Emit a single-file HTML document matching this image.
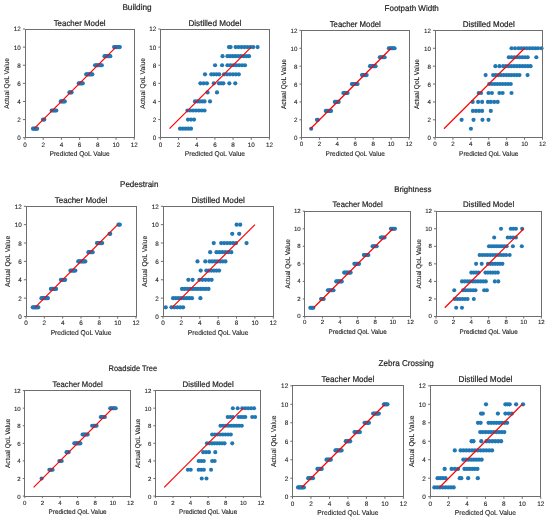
<!DOCTYPE html>
<html><head><meta charset="utf-8"><style>
html,body{margin:0;padding:0;background:#fff;overflow:hidden;}
svg{display:block;will-change:transform;}
text{font-family:"Liberation Sans",sans-serif;text-rendering:geometricPrecision;}
</style></head><body>
<svg width="550" height="520" viewBox="0 0 550 520">
<rect width="550" height="520" fill="#fff"/>
<g fill="#1f77b4"><circle cx="33.01" cy="128.64" r="2.10"/><circle cx="34.03" cy="128.64" r="2.10"/><circle cx="35.06" cy="128.64" r="2.10"/><circle cx="36.08" cy="128.64" r="2.10"/><circle cx="37.10" cy="128.64" r="2.10"/><circle cx="43.02" cy="119.58" r="2.10"/><circle cx="44.29" cy="119.58" r="2.10"/><circle cx="51.66" cy="110.52" r="2.10"/><circle cx="52.82" cy="110.52" r="2.10"/><circle cx="53.98" cy="110.52" r="2.10"/><circle cx="55.14" cy="110.52" r="2.10"/><circle cx="56.30" cy="110.52" r="2.10"/><circle cx="60.76" cy="101.47" r="2.10"/><circle cx="61.76" cy="101.47" r="2.10"/><circle cx="62.77" cy="101.47" r="2.10"/><circle cx="63.77" cy="101.47" r="2.10"/><circle cx="64.77" cy="101.47" r="2.10"/><circle cx="69.41" cy="92.41" r="2.10"/><circle cx="70.50" cy="92.41" r="2.10"/><circle cx="71.59" cy="92.41" r="2.10"/><circle cx="78.78" cy="83.35" r="2.10"/><circle cx="79.78" cy="83.35" r="2.10"/><circle cx="80.78" cy="83.35" r="2.10"/><circle cx="81.78" cy="83.35" r="2.10"/><circle cx="82.78" cy="83.35" r="2.10"/><circle cx="86.15" cy="74.29" r="2.10"/><circle cx="87.18" cy="74.29" r="2.10"/><circle cx="88.21" cy="74.29" r="2.10"/><circle cx="89.25" cy="74.29" r="2.10"/><circle cx="90.28" cy="74.29" r="2.10"/><circle cx="91.31" cy="74.29" r="2.10"/><circle cx="92.34" cy="74.29" r="2.10"/><circle cx="95.07" cy="65.23" r="2.10"/><circle cx="96.19" cy="65.23" r="2.10"/><circle cx="97.31" cy="65.23" r="2.10"/><circle cx="98.44" cy="65.23" r="2.10"/><circle cx="99.56" cy="65.23" r="2.10"/><circle cx="100.68" cy="65.23" r="2.10"/><circle cx="101.80" cy="65.23" r="2.10"/><circle cx="104.53" cy="56.17" r="2.10"/><circle cx="105.68" cy="56.17" r="2.10"/><circle cx="106.83" cy="56.17" r="2.10"/><circle cx="107.97" cy="56.17" r="2.10"/><circle cx="109.12" cy="56.17" r="2.10"/><circle cx="110.27" cy="56.17" r="2.10"/><circle cx="114.09" cy="47.12" r="2.10"/><circle cx="115.24" cy="47.12" r="2.10"/><circle cx="116.38" cy="47.12" r="2.10"/><circle cx="117.53" cy="47.12" r="2.10"/><circle cx="118.68" cy="47.12" r="2.10"/><circle cx="119.82" cy="47.12" r="2.10"/></g>
<line x1="34.10" y1="128.64" x2="116.00" y2="47.12" stroke="#ff0000" stroke-width="1.20"/>
<rect x="25.50" y="29.50" width="109.00" height="108.00" fill="none" stroke="#6e6e6e" stroke-width="1.0"/>
<line x1="25.00" y1="137.70" x2="25.00" y2="139.80" stroke="#6e6e6e" stroke-width="1.0"/>
<line x1="22.90" y1="137.70" x2="25.00" y2="137.70" stroke="#6e6e6e" stroke-width="1.0"/>
<text x="25.00" y="146.92" font-size="6.30" text-anchor="middle" fill="#1f1f1f" stroke="#1f1f1f" stroke-width="0.1">0</text>
<text x="20.80" y="140.19" font-size="6.30" text-anchor="end" fill="#1f1f1f" stroke="#1f1f1f" stroke-width="0.1">0</text>
<line x1="43.20" y1="137.70" x2="43.20" y2="139.80" stroke="#6e6e6e" stroke-width="1.0"/>
<line x1="22.90" y1="119.58" x2="25.00" y2="119.58" stroke="#6e6e6e" stroke-width="1.0"/>
<text x="43.20" y="146.92" font-size="6.30" text-anchor="middle" fill="#1f1f1f" stroke="#1f1f1f" stroke-width="0.1">2</text>
<text x="20.80" y="122.07" font-size="6.30" text-anchor="end" fill="#1f1f1f" stroke="#1f1f1f" stroke-width="0.1">2</text>
<line x1="61.40" y1="137.70" x2="61.40" y2="139.80" stroke="#6e6e6e" stroke-width="1.0"/>
<line x1="22.90" y1="101.47" x2="25.00" y2="101.47" stroke="#6e6e6e" stroke-width="1.0"/>
<text x="61.40" y="146.92" font-size="6.30" text-anchor="middle" fill="#1f1f1f" stroke="#1f1f1f" stroke-width="0.1">4</text>
<text x="20.80" y="103.96" font-size="6.30" text-anchor="end" fill="#1f1f1f" stroke="#1f1f1f" stroke-width="0.1">4</text>
<line x1="79.60" y1="137.70" x2="79.60" y2="139.80" stroke="#6e6e6e" stroke-width="1.0"/>
<line x1="22.90" y1="83.35" x2="25.00" y2="83.35" stroke="#6e6e6e" stroke-width="1.0"/>
<text x="79.60" y="146.92" font-size="6.30" text-anchor="middle" fill="#1f1f1f" stroke="#1f1f1f" stroke-width="0.1">6</text>
<text x="20.80" y="85.84" font-size="6.30" text-anchor="end" fill="#1f1f1f" stroke="#1f1f1f" stroke-width="0.1">6</text>
<line x1="97.80" y1="137.70" x2="97.80" y2="139.80" stroke="#6e6e6e" stroke-width="1.0"/>
<line x1="22.90" y1="65.23" x2="25.00" y2="65.23" stroke="#6e6e6e" stroke-width="1.0"/>
<text x="97.80" y="146.92" font-size="6.30" text-anchor="middle" fill="#1f1f1f" stroke="#1f1f1f" stroke-width="0.1">8</text>
<text x="20.80" y="67.72" font-size="6.30" text-anchor="end" fill="#1f1f1f" stroke="#1f1f1f" stroke-width="0.1">8</text>
<line x1="116.00" y1="137.70" x2="116.00" y2="139.80" stroke="#6e6e6e" stroke-width="1.0"/>
<line x1="22.90" y1="47.12" x2="25.00" y2="47.12" stroke="#6e6e6e" stroke-width="1.0"/>
<text x="116.00" y="146.92" font-size="6.30" text-anchor="middle" fill="#1f1f1f" stroke="#1f1f1f" stroke-width="0.1">10</text>
<text x="20.80" y="49.61" font-size="6.30" text-anchor="end" fill="#1f1f1f" stroke="#1f1f1f" stroke-width="0.1">10</text>
<line x1="134.20" y1="137.70" x2="134.20" y2="139.80" stroke="#6e6e6e" stroke-width="1.0"/>
<line x1="22.90" y1="29.00" x2="25.00" y2="29.00" stroke="#6e6e6e" stroke-width="1.0"/>
<text x="134.20" y="146.92" font-size="6.30" text-anchor="middle" fill="#1f1f1f" stroke="#1f1f1f" stroke-width="0.1">12</text>
<text x="20.80" y="31.49" font-size="6.30" text-anchor="end" fill="#1f1f1f" stroke="#1f1f1f" stroke-width="0.1">12</text>
<text x="79.60" y="26.20" font-size="8.35" text-anchor="middle" textLength="51.91" lengthAdjust="spacingAndGlyphs" fill="#1f1f1f" stroke="#1f1f1f" stroke-width="0.2">Teacher Model</text>
<text x="79.60" y="156.40" font-size="6.96" text-anchor="middle" textLength="60.18" lengthAdjust="spacingAndGlyphs" fill="#1f1f1f" stroke="#1f1f1f" stroke-width="0.12">Predicted QoL Value</text>
<text x="9.22" y="83.35" font-size="6.96" text-anchor="middle" textLength="50.82" lengthAdjust="spacingAndGlyphs" transform="rotate(-90 9.22 83.35)" fill="#1f1f1f" stroke="#1f1f1f" stroke-width="0.12">Actual QoL Value</text>
<g fill="#1f77b4"><circle cx="228.98" cy="47.12" r="2.10"/><circle cx="230.61" cy="47.12" r="2.10"/><circle cx="235.61" cy="47.12" r="2.10"/><circle cx="238.55" cy="47.12" r="2.10"/><circle cx="241.48" cy="47.12" r="2.10"/><circle cx="244.42" cy="47.12" r="2.10"/><circle cx="247.36" cy="47.12" r="2.10"/><circle cx="250.29" cy="47.12" r="2.10"/><circle cx="253.23" cy="47.12" r="2.10"/><circle cx="257.59" cy="47.12" r="2.10"/><circle cx="222.53" cy="56.17" r="2.10"/><circle cx="227.44" cy="56.17" r="2.10"/><circle cx="230.13" cy="56.17" r="2.10"/><circle cx="232.82" cy="56.17" r="2.10"/><circle cx="235.51" cy="56.17" r="2.10"/><circle cx="238.20" cy="56.17" r="2.10"/><circle cx="240.89" cy="56.17" r="2.10"/><circle cx="243.58" cy="56.17" r="2.10"/><circle cx="246.27" cy="56.17" r="2.10"/><circle cx="248.96" cy="56.17" r="2.10"/><circle cx="215.08" cy="65.23" r="2.10"/><circle cx="222.08" cy="65.23" r="2.10"/><circle cx="227.44" cy="65.23" r="2.10"/><circle cx="230.36" cy="65.23" r="2.10"/><circle cx="233.28" cy="65.23" r="2.10"/><circle cx="236.20" cy="65.23" r="2.10"/><circle cx="239.12" cy="65.23" r="2.10"/><circle cx="242.04" cy="65.23" r="2.10"/><circle cx="244.97" cy="65.23" r="2.10"/><circle cx="205.00" cy="74.29" r="2.10"/><circle cx="211.27" cy="74.29" r="2.10"/><circle cx="213.90" cy="74.29" r="2.10"/><circle cx="216.53" cy="74.29" r="2.10"/><circle cx="219.17" cy="74.29" r="2.10"/><circle cx="224.07" cy="74.29" r="2.10"/><circle cx="227.02" cy="74.29" r="2.10"/><circle cx="229.96" cy="74.29" r="2.10"/><circle cx="232.90" cy="74.29" r="2.10"/><circle cx="235.85" cy="74.29" r="2.10"/><circle cx="238.79" cy="74.29" r="2.10"/><circle cx="200.37" cy="83.35" r="2.10"/><circle cx="203.64" cy="83.35" r="2.10"/><circle cx="206.91" cy="83.35" r="2.10"/><circle cx="213.81" cy="83.35" r="2.10"/><circle cx="218.90" cy="83.35" r="2.10"/><circle cx="221.12" cy="83.35" r="2.10"/><circle cx="223.35" cy="83.35" r="2.10"/><circle cx="229.34" cy="83.35" r="2.10"/><circle cx="235.25" cy="83.35" r="2.10"/><circle cx="207.54" cy="92.41" r="2.10"/><circle cx="216.99" cy="92.41" r="2.10"/><circle cx="195.01" cy="101.47" r="2.10"/><circle cx="197.39" cy="101.47" r="2.10"/><circle cx="199.78" cy="101.47" r="2.10"/><circle cx="202.16" cy="101.47" r="2.10"/><circle cx="204.54" cy="101.47" r="2.10"/><circle cx="210.00" cy="101.47" r="2.10"/><circle cx="187.47" cy="110.52" r="2.10"/><circle cx="190.31" cy="110.52" r="2.10"/><circle cx="193.16" cy="110.52" r="2.10"/><circle cx="196.01" cy="110.52" r="2.10"/><circle cx="198.85" cy="110.52" r="2.10"/><circle cx="201.70" cy="110.52" r="2.10"/><circle cx="204.54" cy="110.52" r="2.10"/><circle cx="188.01" cy="119.58" r="2.10"/><circle cx="191.01" cy="119.58" r="2.10"/><circle cx="194.01" cy="119.58" r="2.10"/><circle cx="180.02" cy="128.64" r="2.10"/><circle cx="182.77" cy="128.64" r="2.10"/><circle cx="185.52" cy="128.64" r="2.10"/><circle cx="188.26" cy="128.64" r="2.10"/><circle cx="191.01" cy="128.64" r="2.10"/></g>
<line x1="169.48" y1="128.64" x2="251.23" y2="47.12" stroke="#ff0000" stroke-width="1.20"/>
<rect x="160.50" y="29.50" width="109.00" height="108.00" fill="none" stroke="#6e6e6e" stroke-width="1.0"/>
<line x1="160.40" y1="137.70" x2="160.40" y2="139.80" stroke="#6e6e6e" stroke-width="1.0"/>
<line x1="158.30" y1="137.70" x2="160.40" y2="137.70" stroke="#6e6e6e" stroke-width="1.0"/>
<text x="160.40" y="146.92" font-size="6.30" text-anchor="middle" fill="#1f1f1f" stroke="#1f1f1f" stroke-width="0.1">0</text>
<text x="156.20" y="140.19" font-size="6.30" text-anchor="end" fill="#1f1f1f" stroke="#1f1f1f" stroke-width="0.1">0</text>
<line x1="178.57" y1="137.70" x2="178.57" y2="139.80" stroke="#6e6e6e" stroke-width="1.0"/>
<line x1="158.30" y1="119.58" x2="160.40" y2="119.58" stroke="#6e6e6e" stroke-width="1.0"/>
<text x="178.57" y="146.92" font-size="6.30" text-anchor="middle" fill="#1f1f1f" stroke="#1f1f1f" stroke-width="0.1">2</text>
<text x="156.20" y="122.07" font-size="6.30" text-anchor="end" fill="#1f1f1f" stroke="#1f1f1f" stroke-width="0.1">2</text>
<line x1="196.73" y1="137.70" x2="196.73" y2="139.80" stroke="#6e6e6e" stroke-width="1.0"/>
<line x1="158.30" y1="101.47" x2="160.40" y2="101.47" stroke="#6e6e6e" stroke-width="1.0"/>
<text x="196.73" y="146.92" font-size="6.30" text-anchor="middle" fill="#1f1f1f" stroke="#1f1f1f" stroke-width="0.1">4</text>
<text x="156.20" y="103.96" font-size="6.30" text-anchor="end" fill="#1f1f1f" stroke="#1f1f1f" stroke-width="0.1">4</text>
<line x1="214.90" y1="137.70" x2="214.90" y2="139.80" stroke="#6e6e6e" stroke-width="1.0"/>
<line x1="158.30" y1="83.35" x2="160.40" y2="83.35" stroke="#6e6e6e" stroke-width="1.0"/>
<text x="214.90" y="146.92" font-size="6.30" text-anchor="middle" fill="#1f1f1f" stroke="#1f1f1f" stroke-width="0.1">6</text>
<text x="156.20" y="85.84" font-size="6.30" text-anchor="end" fill="#1f1f1f" stroke="#1f1f1f" stroke-width="0.1">6</text>
<line x1="233.07" y1="137.70" x2="233.07" y2="139.80" stroke="#6e6e6e" stroke-width="1.0"/>
<line x1="158.30" y1="65.23" x2="160.40" y2="65.23" stroke="#6e6e6e" stroke-width="1.0"/>
<text x="233.07" y="146.92" font-size="6.30" text-anchor="middle" fill="#1f1f1f" stroke="#1f1f1f" stroke-width="0.1">8</text>
<text x="156.20" y="67.72" font-size="6.30" text-anchor="end" fill="#1f1f1f" stroke="#1f1f1f" stroke-width="0.1">8</text>
<line x1="251.23" y1="137.70" x2="251.23" y2="139.80" stroke="#6e6e6e" stroke-width="1.0"/>
<line x1="158.30" y1="47.12" x2="160.40" y2="47.12" stroke="#6e6e6e" stroke-width="1.0"/>
<text x="251.23" y="146.92" font-size="6.30" text-anchor="middle" fill="#1f1f1f" stroke="#1f1f1f" stroke-width="0.1">10</text>
<text x="156.20" y="49.61" font-size="6.30" text-anchor="end" fill="#1f1f1f" stroke="#1f1f1f" stroke-width="0.1">10</text>
<line x1="269.40" y1="137.70" x2="269.40" y2="139.80" stroke="#6e6e6e" stroke-width="1.0"/>
<line x1="158.30" y1="29.00" x2="160.40" y2="29.00" stroke="#6e6e6e" stroke-width="1.0"/>
<text x="269.40" y="146.92" font-size="6.30" text-anchor="middle" fill="#1f1f1f" stroke="#1f1f1f" stroke-width="0.1">12</text>
<text x="156.20" y="31.49" font-size="6.30" text-anchor="end" fill="#1f1f1f" stroke="#1f1f1f" stroke-width="0.1">12</text>
<text x="214.90" y="26.20" font-size="8.35" text-anchor="middle" textLength="52.99" lengthAdjust="spacingAndGlyphs" fill="#1f1f1f" stroke="#1f1f1f" stroke-width="0.2">Distilled Model</text>
<text x="214.90" y="156.40" font-size="6.96" text-anchor="middle" textLength="60.18" lengthAdjust="spacingAndGlyphs" fill="#1f1f1f" stroke="#1f1f1f" stroke-width="0.12">Predicted QoL Value</text>
<text x="144.62" y="83.35" font-size="6.96" text-anchor="middle" textLength="50.82" lengthAdjust="spacingAndGlyphs" transform="rotate(-90 144.62 83.35)" fill="#1f1f1f" stroke="#1f1f1f" stroke-width="0.12">Actual QoL Value</text>
<text x="137.00" y="9.90" font-size="8.35" text-anchor="middle" textLength="29.23" lengthAdjust="spacingAndGlyphs" fill="#1f1f1f" stroke="#1f1f1f" stroke-width="0.2">Building</text>
<g fill="#1f77b4"><circle cx="311.18" cy="128.76" r="2.07"/><circle cx="316.91" cy="119.82" r="2.07"/><circle cx="317.89" cy="119.82" r="2.07"/><circle cx="325.78" cy="110.88" r="2.07"/><circle cx="326.83" cy="110.88" r="2.07"/><circle cx="327.89" cy="110.88" r="2.07"/><circle cx="328.95" cy="110.88" r="2.07"/><circle cx="330.01" cy="110.88" r="2.07"/><circle cx="331.06" cy="110.88" r="2.07"/><circle cx="334.82" cy="101.93" r="2.07"/><circle cx="335.79" cy="101.93" r="2.07"/><circle cx="336.75" cy="101.93" r="2.07"/><circle cx="337.71" cy="101.93" r="2.07"/><circle cx="338.68" cy="101.93" r="2.07"/><circle cx="343.34" cy="92.99" r="2.07"/><circle cx="344.39" cy="92.99" r="2.07"/><circle cx="345.44" cy="92.99" r="2.07"/><circle cx="346.49" cy="92.99" r="2.07"/><circle cx="347.55" cy="92.99" r="2.07"/><circle cx="351.85" cy="84.05" r="2.07"/><circle cx="352.99" cy="84.05" r="2.07"/><circle cx="354.14" cy="84.05" r="2.07"/><circle cx="355.29" cy="84.05" r="2.07"/><circle cx="356.43" cy="84.05" r="2.07"/><circle cx="357.58" cy="84.05" r="2.07"/><circle cx="361.97" cy="75.11" r="2.07"/><circle cx="363.13" cy="75.11" r="2.07"/><circle cx="364.30" cy="75.11" r="2.07"/><circle cx="365.46" cy="75.11" r="2.07"/><circle cx="366.63" cy="75.11" r="2.07"/><circle cx="370.03" cy="66.17" r="2.07"/><circle cx="371.14" cy="66.17" r="2.07"/><circle cx="372.25" cy="66.17" r="2.07"/><circle cx="373.36" cy="66.17" r="2.07"/><circle cx="374.47" cy="66.17" r="2.07"/><circle cx="375.59" cy="66.17" r="2.07"/><circle cx="379.80" cy="57.22" r="2.07"/><circle cx="381.01" cy="57.22" r="2.07"/><circle cx="382.21" cy="57.22" r="2.07"/><circle cx="383.42" cy="57.22" r="2.07"/><circle cx="384.63" cy="57.22" r="2.07"/><circle cx="388.84" cy="48.28" r="2.07"/><circle cx="389.99" cy="48.28" r="2.07"/><circle cx="391.14" cy="48.28" r="2.07"/><circle cx="392.28" cy="48.28" r="2.07"/><circle cx="393.43" cy="48.28" r="2.07"/><circle cx="394.58" cy="48.28" r="2.07"/></g>
<line x1="310.46" y1="128.76" x2="391.08" y2="48.28" stroke="#ff0000" stroke-width="1.20"/>
<rect x="301.50" y="30.50" width="108.00" height="107.00" fill="none" stroke="#6e6e6e" stroke-width="1.0"/>
<line x1="301.50" y1="137.70" x2="301.50" y2="139.77" stroke="#6e6e6e" stroke-width="1.0"/>
<line x1="299.43" y1="137.70" x2="301.50" y2="137.70" stroke="#6e6e6e" stroke-width="1.0"/>
<text x="301.50" y="145.99" font-size="6.21" text-anchor="middle" fill="#1f1f1f" stroke="#1f1f1f" stroke-width="0.1">0</text>
<text x="297.36" y="140.16" font-size="6.21" text-anchor="end" fill="#1f1f1f" stroke="#1f1f1f" stroke-width="0.1">0</text>
<line x1="319.42" y1="137.70" x2="319.42" y2="139.77" stroke="#6e6e6e" stroke-width="1.0"/>
<line x1="299.43" y1="119.82" x2="301.50" y2="119.82" stroke="#6e6e6e" stroke-width="1.0"/>
<text x="319.42" y="145.99" font-size="6.21" text-anchor="middle" fill="#1f1f1f" stroke="#1f1f1f" stroke-width="0.1">2</text>
<text x="297.36" y="122.27" font-size="6.21" text-anchor="end" fill="#1f1f1f" stroke="#1f1f1f" stroke-width="0.1">2</text>
<line x1="337.33" y1="137.70" x2="337.33" y2="139.77" stroke="#6e6e6e" stroke-width="1.0"/>
<line x1="299.43" y1="101.93" x2="301.50" y2="101.93" stroke="#6e6e6e" stroke-width="1.0"/>
<text x="337.33" y="145.99" font-size="6.21" text-anchor="middle" fill="#1f1f1f" stroke="#1f1f1f" stroke-width="0.1">4</text>
<text x="297.36" y="104.39" font-size="6.21" text-anchor="end" fill="#1f1f1f" stroke="#1f1f1f" stroke-width="0.1">4</text>
<line x1="355.25" y1="137.70" x2="355.25" y2="139.77" stroke="#6e6e6e" stroke-width="1.0"/>
<line x1="299.43" y1="84.05" x2="301.50" y2="84.05" stroke="#6e6e6e" stroke-width="1.0"/>
<text x="355.25" y="145.99" font-size="6.21" text-anchor="middle" fill="#1f1f1f" stroke="#1f1f1f" stroke-width="0.1">6</text>
<text x="297.36" y="86.51" font-size="6.21" text-anchor="end" fill="#1f1f1f" stroke="#1f1f1f" stroke-width="0.1">6</text>
<line x1="373.17" y1="137.70" x2="373.17" y2="139.77" stroke="#6e6e6e" stroke-width="1.0"/>
<line x1="299.43" y1="66.17" x2="301.50" y2="66.17" stroke="#6e6e6e" stroke-width="1.0"/>
<text x="373.17" y="145.99" font-size="6.21" text-anchor="middle" fill="#1f1f1f" stroke="#1f1f1f" stroke-width="0.1">8</text>
<text x="297.36" y="68.62" font-size="6.21" text-anchor="end" fill="#1f1f1f" stroke="#1f1f1f" stroke-width="0.1">8</text>
<line x1="391.08" y1="137.70" x2="391.08" y2="139.77" stroke="#6e6e6e" stroke-width="1.0"/>
<line x1="299.43" y1="48.28" x2="301.50" y2="48.28" stroke="#6e6e6e" stroke-width="1.0"/>
<text x="391.08" y="145.99" font-size="6.21" text-anchor="middle" fill="#1f1f1f" stroke="#1f1f1f" stroke-width="0.1">10</text>
<text x="297.36" y="50.74" font-size="6.21" text-anchor="end" fill="#1f1f1f" stroke="#1f1f1f" stroke-width="0.1">10</text>
<line x1="409.00" y1="137.70" x2="409.00" y2="139.77" stroke="#6e6e6e" stroke-width="1.0"/>
<line x1="299.43" y1="30.40" x2="301.50" y2="30.40" stroke="#6e6e6e" stroke-width="1.0"/>
<text x="409.00" y="145.99" font-size="6.21" text-anchor="middle" fill="#1f1f1f" stroke="#1f1f1f" stroke-width="0.1">12</text>
<text x="297.36" y="32.86" font-size="6.21" text-anchor="end" fill="#1f1f1f" stroke="#1f1f1f" stroke-width="0.1">12</text>
<text x="355.25" y="26.65" font-size="8.23" text-anchor="middle" textLength="51.13" lengthAdjust="spacingAndGlyphs" fill="#1f1f1f" stroke="#1f1f1f" stroke-width="0.2">Teacher Model</text>
<text x="355.25" y="155.63" font-size="6.86" text-anchor="middle" textLength="59.28" lengthAdjust="spacingAndGlyphs" fill="#1f1f1f" stroke="#1f1f1f" stroke-width="0.12">Predicted QoL Value</text>
<text x="285.96" y="84.05" font-size="6.86" text-anchor="middle" textLength="50.06" lengthAdjust="spacingAndGlyphs" transform="rotate(-90 285.96 84.05)" fill="#1f1f1f" stroke="#1f1f1f" stroke-width="0.12">Actual QoL Value</text>
<g fill="#1f77b4"><circle cx="511.50" cy="48.28" r="2.07"/><circle cx="515.00" cy="48.28" r="2.07"/><circle cx="518.49" cy="48.28" r="2.07"/><circle cx="521.29" cy="48.28" r="2.07"/><circle cx="524.10" cy="48.28" r="2.07"/><circle cx="526.90" cy="48.28" r="2.07"/><circle cx="529.70" cy="48.28" r="2.07"/><circle cx="532.51" cy="48.28" r="2.07"/><circle cx="535.31" cy="48.28" r="2.07"/><circle cx="538.11" cy="48.28" r="2.07"/><circle cx="541.51" cy="48.28" r="2.07"/><circle cx="508.82" cy="57.22" r="2.07"/><circle cx="511.52" cy="57.22" r="2.07"/><circle cx="514.22" cy="57.22" r="2.07"/><circle cx="516.92" cy="57.22" r="2.07"/><circle cx="519.62" cy="57.22" r="2.07"/><circle cx="522.32" cy="57.22" r="2.07"/><circle cx="525.02" cy="57.22" r="2.07"/><circle cx="527.72" cy="57.22" r="2.07"/><circle cx="536.32" cy="57.22" r="2.07"/><circle cx="495.38" cy="66.17" r="2.07"/><circle cx="499.41" cy="66.17" r="2.07"/><circle cx="503.08" cy="66.17" r="2.07"/><circle cx="505.83" cy="66.17" r="2.07"/><circle cx="508.58" cy="66.17" r="2.07"/><circle cx="511.33" cy="66.17" r="2.07"/><circle cx="514.08" cy="66.17" r="2.07"/><circle cx="516.83" cy="66.17" r="2.07"/><circle cx="519.58" cy="66.17" r="2.07"/><circle cx="522.33" cy="66.17" r="2.07"/><circle cx="525.09" cy="66.17" r="2.07"/><circle cx="527.84" cy="66.17" r="2.07"/><circle cx="530.59" cy="66.17" r="2.07"/><circle cx="485.61" cy="75.11" r="2.07"/><circle cx="493.14" cy="75.11" r="2.07"/><circle cx="495.77" cy="75.11" r="2.07"/><circle cx="498.41" cy="75.11" r="2.07"/><circle cx="501.04" cy="75.11" r="2.07"/><circle cx="503.67" cy="75.11" r="2.07"/><circle cx="506.31" cy="75.11" r="2.07"/><circle cx="508.94" cy="75.11" r="2.07"/><circle cx="511.58" cy="75.11" r="2.07"/><circle cx="514.21" cy="75.11" r="2.07"/><circle cx="516.84" cy="75.11" r="2.07"/><circle cx="519.48" cy="75.11" r="2.07"/><circle cx="527.54" cy="75.11" r="2.07"/><circle cx="489.20" cy="84.05" r="2.07"/><circle cx="491.90" cy="84.05" r="2.07"/><circle cx="494.60" cy="84.05" r="2.07"/><circle cx="497.29" cy="84.05" r="2.07"/><circle cx="499.99" cy="84.05" r="2.07"/><circle cx="502.69" cy="84.05" r="2.07"/><circle cx="505.39" cy="84.05" r="2.07"/><circle cx="508.09" cy="84.05" r="2.07"/><circle cx="510.79" cy="84.05" r="2.07"/><circle cx="478.72" cy="92.99" r="2.07"/><circle cx="481.05" cy="92.99" r="2.07"/><circle cx="488.48" cy="92.99" r="2.07"/><circle cx="491.89" cy="92.99" r="2.07"/><circle cx="499.41" cy="92.99" r="2.07"/><circle cx="502.64" cy="92.99" r="2.07"/><circle cx="511.50" cy="92.99" r="2.07"/><circle cx="472.71" cy="101.93" r="2.07"/><circle cx="478.09" cy="101.93" r="2.07"/><circle cx="482.12" cy="101.93" r="2.07"/><circle cx="487.94" cy="101.93" r="2.07"/><circle cx="490.81" cy="101.93" r="2.07"/><circle cx="494.21" cy="101.93" r="2.07"/><circle cx="497.71" cy="101.93" r="2.07"/><circle cx="472.89" cy="110.88" r="2.07"/><circle cx="475.97" cy="110.88" r="2.07"/><circle cx="479.05" cy="110.88" r="2.07"/><circle cx="482.12" cy="110.88" r="2.07"/><circle cx="490.81" cy="110.88" r="2.07"/><circle cx="461.61" cy="119.82" r="2.07"/><circle cx="473.52" cy="119.82" r="2.07"/><circle cx="482.48" cy="119.82" r="2.07"/><circle cx="488.48" cy="119.82" r="2.07"/><circle cx="470.92" cy="128.76" r="2.07"/></g>
<line x1="443.96" y1="128.76" x2="524.58" y2="48.28" stroke="#ff0000" stroke-width="1.20"/>
<rect x="435.50" y="30.50" width="107.00" height="107.00" fill="none" stroke="#6e6e6e" stroke-width="1.0"/>
<line x1="435.00" y1="137.70" x2="435.00" y2="139.77" stroke="#6e6e6e" stroke-width="1.0"/>
<line x1="432.93" y1="137.70" x2="435.00" y2="137.70" stroke="#6e6e6e" stroke-width="1.0"/>
<text x="435.00" y="145.99" font-size="6.21" text-anchor="middle" fill="#1f1f1f" stroke="#1f1f1f" stroke-width="0.1">0</text>
<text x="430.86" y="140.16" font-size="6.21" text-anchor="end" fill="#1f1f1f" stroke="#1f1f1f" stroke-width="0.1">0</text>
<line x1="452.92" y1="137.70" x2="452.92" y2="139.77" stroke="#6e6e6e" stroke-width="1.0"/>
<line x1="432.93" y1="119.82" x2="435.00" y2="119.82" stroke="#6e6e6e" stroke-width="1.0"/>
<text x="452.92" y="145.99" font-size="6.21" text-anchor="middle" fill="#1f1f1f" stroke="#1f1f1f" stroke-width="0.1">2</text>
<text x="430.86" y="122.27" font-size="6.21" text-anchor="end" fill="#1f1f1f" stroke="#1f1f1f" stroke-width="0.1">2</text>
<line x1="470.83" y1="137.70" x2="470.83" y2="139.77" stroke="#6e6e6e" stroke-width="1.0"/>
<line x1="432.93" y1="101.93" x2="435.00" y2="101.93" stroke="#6e6e6e" stroke-width="1.0"/>
<text x="470.83" y="145.99" font-size="6.21" text-anchor="middle" fill="#1f1f1f" stroke="#1f1f1f" stroke-width="0.1">4</text>
<text x="430.86" y="104.39" font-size="6.21" text-anchor="end" fill="#1f1f1f" stroke="#1f1f1f" stroke-width="0.1">4</text>
<line x1="488.75" y1="137.70" x2="488.75" y2="139.77" stroke="#6e6e6e" stroke-width="1.0"/>
<line x1="432.93" y1="84.05" x2="435.00" y2="84.05" stroke="#6e6e6e" stroke-width="1.0"/>
<text x="488.75" y="145.99" font-size="6.21" text-anchor="middle" fill="#1f1f1f" stroke="#1f1f1f" stroke-width="0.1">6</text>
<text x="430.86" y="86.51" font-size="6.21" text-anchor="end" fill="#1f1f1f" stroke="#1f1f1f" stroke-width="0.1">6</text>
<line x1="506.67" y1="137.70" x2="506.67" y2="139.77" stroke="#6e6e6e" stroke-width="1.0"/>
<line x1="432.93" y1="66.17" x2="435.00" y2="66.17" stroke="#6e6e6e" stroke-width="1.0"/>
<text x="506.67" y="145.99" font-size="6.21" text-anchor="middle" fill="#1f1f1f" stroke="#1f1f1f" stroke-width="0.1">8</text>
<text x="430.86" y="68.62" font-size="6.21" text-anchor="end" fill="#1f1f1f" stroke="#1f1f1f" stroke-width="0.1">8</text>
<line x1="524.58" y1="137.70" x2="524.58" y2="139.77" stroke="#6e6e6e" stroke-width="1.0"/>
<line x1="432.93" y1="48.28" x2="435.00" y2="48.28" stroke="#6e6e6e" stroke-width="1.0"/>
<text x="524.58" y="145.99" font-size="6.21" text-anchor="middle" fill="#1f1f1f" stroke="#1f1f1f" stroke-width="0.1">10</text>
<text x="430.86" y="50.74" font-size="6.21" text-anchor="end" fill="#1f1f1f" stroke="#1f1f1f" stroke-width="0.1">10</text>
<line x1="542.50" y1="137.70" x2="542.50" y2="139.77" stroke="#6e6e6e" stroke-width="1.0"/>
<line x1="432.93" y1="30.40" x2="435.00" y2="30.40" stroke="#6e6e6e" stroke-width="1.0"/>
<text x="542.50" y="145.99" font-size="6.21" text-anchor="middle" fill="#1f1f1f" stroke="#1f1f1f" stroke-width="0.1">12</text>
<text x="430.86" y="32.86" font-size="6.21" text-anchor="end" fill="#1f1f1f" stroke="#1f1f1f" stroke-width="0.1">12</text>
<text x="488.75" y="26.65" font-size="8.23" text-anchor="middle" textLength="52.20" lengthAdjust="spacingAndGlyphs" fill="#1f1f1f" stroke="#1f1f1f" stroke-width="0.2">Distilled Model</text>
<text x="488.75" y="155.63" font-size="6.86" text-anchor="middle" textLength="59.28" lengthAdjust="spacingAndGlyphs" fill="#1f1f1f" stroke="#1f1f1f" stroke-width="0.12">Predicted QoL Value</text>
<text x="419.46" y="84.05" font-size="6.86" text-anchor="middle" textLength="50.06" lengthAdjust="spacingAndGlyphs" transform="rotate(-90 419.46 84.05)" fill="#1f1f1f" stroke="#1f1f1f" stroke-width="0.12">Actual QoL Value</text>
<text x="411.70" y="10.80" font-size="8.23" text-anchor="middle" textLength="54.25" lengthAdjust="spacingAndGlyphs" fill="#1f1f1f" stroke="#1f1f1f" stroke-width="0.2">Footpath Width</text>
<g fill="#1f77b4"><circle cx="32.78" cy="307.32" r="2.12"/><circle cx="33.88" cy="307.32" r="2.12"/><circle cx="34.98" cy="307.32" r="2.12"/><circle cx="36.08" cy="307.32" r="2.12"/><circle cx="37.18" cy="307.32" r="2.12"/><circle cx="38.28" cy="307.32" r="2.12"/><circle cx="41.49" cy="298.13" r="2.12"/><circle cx="42.55" cy="298.13" r="2.12"/><circle cx="43.60" cy="298.13" r="2.12"/><circle cx="44.65" cy="298.13" r="2.12"/><circle cx="45.71" cy="298.13" r="2.12"/><circle cx="46.76" cy="298.13" r="2.12"/><circle cx="47.82" cy="298.13" r="2.12"/><circle cx="50.93" cy="288.95" r="2.12"/><circle cx="51.96" cy="288.95" r="2.12"/><circle cx="52.99" cy="288.95" r="2.12"/><circle cx="54.01" cy="288.95" r="2.12"/><circle cx="55.04" cy="288.95" r="2.12"/><circle cx="56.07" cy="288.95" r="2.12"/><circle cx="60.92" cy="279.77" r="2.12"/><circle cx="61.98" cy="279.77" r="2.12"/><circle cx="63.03" cy="279.77" r="2.12"/><circle cx="64.09" cy="279.77" r="2.12"/><circle cx="65.14" cy="279.77" r="2.12"/><circle cx="70.46" cy="270.58" r="2.12"/><circle cx="71.67" cy="270.58" r="2.12"/><circle cx="72.89" cy="270.58" r="2.12"/><circle cx="74.10" cy="270.58" r="2.12"/><circle cx="75.32" cy="270.58" r="2.12"/><circle cx="78.25" cy="261.40" r="2.12"/><circle cx="79.43" cy="261.40" r="2.12"/><circle cx="80.60" cy="261.40" r="2.12"/><circle cx="81.78" cy="261.40" r="2.12"/><circle cx="82.96" cy="261.40" r="2.12"/><circle cx="84.13" cy="261.40" r="2.12"/><circle cx="85.31" cy="261.40" r="2.12"/><circle cx="88.42" cy="252.22" r="2.12"/><circle cx="89.48" cy="252.22" r="2.12"/><circle cx="90.53" cy="252.22" r="2.12"/><circle cx="91.59" cy="252.22" r="2.12"/><circle cx="92.64" cy="252.22" r="2.12"/><circle cx="96.95" cy="243.03" r="2.12"/><circle cx="97.99" cy="243.03" r="2.12"/><circle cx="99.04" cy="243.03" r="2.12"/><circle cx="100.09" cy="243.03" r="2.12"/><circle cx="101.13" cy="243.03" r="2.12"/><circle cx="102.17" cy="243.03" r="2.12"/><circle cx="109.60" cy="233.85" r="2.12"/><circle cx="110.24" cy="233.85" r="2.12"/><circle cx="118.49" cy="224.67" r="2.12"/><circle cx="119.78" cy="224.67" r="2.12"/></g>
<line x1="35.17" y1="307.32" x2="117.67" y2="224.67" stroke="#ff0000" stroke-width="1.20"/>
<rect x="26.50" y="206.50" width="110.00" height="110.00" fill="none" stroke="#6e6e6e" stroke-width="1.0"/>
<line x1="26.00" y1="316.50" x2="26.00" y2="318.62" stroke="#6e6e6e" stroke-width="1.0"/>
<line x1="23.88" y1="316.50" x2="26.00" y2="316.50" stroke="#6e6e6e" stroke-width="1.0"/>
<text x="26.00" y="325.49" font-size="6.35" text-anchor="middle" fill="#1f1f1f" stroke="#1f1f1f" stroke-width="0.1">0</text>
<text x="21.77" y="319.01" font-size="6.35" text-anchor="end" fill="#1f1f1f" stroke="#1f1f1f" stroke-width="0.1">0</text>
<line x1="44.33" y1="316.50" x2="44.33" y2="318.62" stroke="#6e6e6e" stroke-width="1.0"/>
<line x1="23.88" y1="298.13" x2="26.00" y2="298.13" stroke="#6e6e6e" stroke-width="1.0"/>
<text x="44.33" y="325.49" font-size="6.35" text-anchor="middle" fill="#1f1f1f" stroke="#1f1f1f" stroke-width="0.1">2</text>
<text x="21.77" y="300.64" font-size="6.35" text-anchor="end" fill="#1f1f1f" stroke="#1f1f1f" stroke-width="0.1">2</text>
<line x1="62.67" y1="316.50" x2="62.67" y2="318.62" stroke="#6e6e6e" stroke-width="1.0"/>
<line x1="23.88" y1="279.77" x2="26.00" y2="279.77" stroke="#6e6e6e" stroke-width="1.0"/>
<text x="62.67" y="325.49" font-size="6.35" text-anchor="middle" fill="#1f1f1f" stroke="#1f1f1f" stroke-width="0.1">4</text>
<text x="21.77" y="282.27" font-size="6.35" text-anchor="end" fill="#1f1f1f" stroke="#1f1f1f" stroke-width="0.1">4</text>
<line x1="81.00" y1="316.50" x2="81.00" y2="318.62" stroke="#6e6e6e" stroke-width="1.0"/>
<line x1="23.88" y1="261.40" x2="26.00" y2="261.40" stroke="#6e6e6e" stroke-width="1.0"/>
<text x="81.00" y="325.49" font-size="6.35" text-anchor="middle" fill="#1f1f1f" stroke="#1f1f1f" stroke-width="0.1">6</text>
<text x="21.77" y="263.91" font-size="6.35" text-anchor="end" fill="#1f1f1f" stroke="#1f1f1f" stroke-width="0.1">6</text>
<line x1="99.33" y1="316.50" x2="99.33" y2="318.62" stroke="#6e6e6e" stroke-width="1.0"/>
<line x1="23.88" y1="243.03" x2="26.00" y2="243.03" stroke="#6e6e6e" stroke-width="1.0"/>
<text x="99.33" y="325.49" font-size="6.35" text-anchor="middle" fill="#1f1f1f" stroke="#1f1f1f" stroke-width="0.1">8</text>
<text x="21.77" y="245.54" font-size="6.35" text-anchor="end" fill="#1f1f1f" stroke="#1f1f1f" stroke-width="0.1">8</text>
<line x1="117.67" y1="316.50" x2="117.67" y2="318.62" stroke="#6e6e6e" stroke-width="1.0"/>
<line x1="23.88" y1="224.67" x2="26.00" y2="224.67" stroke="#6e6e6e" stroke-width="1.0"/>
<text x="117.67" y="325.49" font-size="6.35" text-anchor="middle" fill="#1f1f1f" stroke="#1f1f1f" stroke-width="0.1">10</text>
<text x="21.77" y="227.17" font-size="6.35" text-anchor="end" fill="#1f1f1f" stroke="#1f1f1f" stroke-width="0.1">10</text>
<line x1="136.00" y1="316.50" x2="136.00" y2="318.62" stroke="#6e6e6e" stroke-width="1.0"/>
<line x1="23.88" y1="206.30" x2="26.00" y2="206.30" stroke="#6e6e6e" stroke-width="1.0"/>
<text x="136.00" y="325.49" font-size="6.35" text-anchor="middle" fill="#1f1f1f" stroke="#1f1f1f" stroke-width="0.1">12</text>
<text x="21.77" y="208.81" font-size="6.35" text-anchor="end" fill="#1f1f1f" stroke="#1f1f1f" stroke-width="0.1">12</text>
<text x="81.00" y="203.47" font-size="8.42" text-anchor="middle" textLength="52.34" lengthAdjust="spacingAndGlyphs" fill="#1f1f1f" stroke="#1f1f1f" stroke-width="0.2">Teacher Model</text>
<text x="81.00" y="334.85" font-size="7.02" text-anchor="middle" textLength="60.68" lengthAdjust="spacingAndGlyphs" fill="#1f1f1f" stroke="#1f1f1f" stroke-width="0.12">Predicted QoL Value</text>
<text x="10.09" y="261.40" font-size="7.02" text-anchor="middle" textLength="51.24" lengthAdjust="spacingAndGlyphs" transform="rotate(-90 10.09 261.40)" fill="#1f1f1f" stroke="#1f1f1f" stroke-width="0.12">Actual QoL Value</text>
<g fill="#1f77b4"><circle cx="236.63" cy="224.67" r="2.12"/><circle cx="240.21" cy="224.67" r="2.12"/><circle cx="232.21" cy="233.85" r="2.12"/><circle cx="239.20" cy="233.85" r="2.12"/><circle cx="213.74" cy="243.03" r="2.12"/><circle cx="221.18" cy="243.03" r="2.12"/><circle cx="224.14" cy="243.03" r="2.12"/><circle cx="227.10" cy="243.03" r="2.12"/><circle cx="230.06" cy="243.03" r="2.12"/><circle cx="233.02" cy="243.03" r="2.12"/><circle cx="235.98" cy="243.03" r="2.12"/><circle cx="246.55" cy="243.03" r="2.12"/><circle cx="210.15" cy="252.22" r="2.12"/><circle cx="216.50" cy="252.22" r="2.12"/><circle cx="219.46" cy="252.22" r="2.12"/><circle cx="222.41" cy="252.22" r="2.12"/><circle cx="225.37" cy="252.22" r="2.12"/><circle cx="228.33" cy="252.22" r="2.12"/><circle cx="231.29" cy="252.22" r="2.12"/><circle cx="197.47" cy="261.40" r="2.12"/><circle cx="205.28" cy="261.40" r="2.12"/><circle cx="209.51" cy="261.40" r="2.12"/><circle cx="212.16" cy="261.40" r="2.12"/><circle cx="214.81" cy="261.40" r="2.12"/><circle cx="217.46" cy="261.40" r="2.12"/><circle cx="220.11" cy="261.40" r="2.12"/><circle cx="222.76" cy="261.40" r="2.12"/><circle cx="225.41" cy="261.40" r="2.12"/><circle cx="200.69" cy="270.58" r="2.12"/><circle cx="206.38" cy="270.58" r="2.12"/><circle cx="208.92" cy="270.58" r="2.12"/><circle cx="211.46" cy="270.58" r="2.12"/><circle cx="214.00" cy="270.58" r="2.12"/><circle cx="216.53" cy="270.58" r="2.12"/><circle cx="219.07" cy="270.58" r="2.12"/><circle cx="188.37" cy="279.77" r="2.12"/><circle cx="192.60" cy="279.77" r="2.12"/><circle cx="199.40" cy="279.77" r="2.12"/><circle cx="202.46" cy="279.77" r="2.12"/><circle cx="205.51" cy="279.77" r="2.12"/><circle cx="208.57" cy="279.77" r="2.12"/><circle cx="211.62" cy="279.77" r="2.12"/><circle cx="182.03" cy="288.95" r="2.12"/><circle cx="184.67" cy="288.95" r="2.12"/><circle cx="187.32" cy="288.95" r="2.12"/><circle cx="189.97" cy="288.95" r="2.12"/><circle cx="192.62" cy="288.95" r="2.12"/><circle cx="195.26" cy="288.95" r="2.12"/><circle cx="197.91" cy="288.95" r="2.12"/><circle cx="200.56" cy="288.95" r="2.12"/><circle cx="203.20" cy="288.95" r="2.12"/><circle cx="205.85" cy="288.95" r="2.12"/><circle cx="208.50" cy="288.95" r="2.12"/><circle cx="173.11" cy="298.13" r="2.12"/><circle cx="175.80" cy="298.13" r="2.12"/><circle cx="178.49" cy="298.13" r="2.12"/><circle cx="181.19" cy="298.13" r="2.12"/><circle cx="183.88" cy="298.13" r="2.12"/><circle cx="186.57" cy="298.13" r="2.12"/><circle cx="189.26" cy="298.13" r="2.12"/><circle cx="191.95" cy="298.13" r="2.12"/><circle cx="200.41" cy="298.13" r="2.12"/><circle cx="165.76" cy="307.32" r="2.12"/><circle cx="171.46" cy="307.32" r="2.12"/><circle cx="174.37" cy="307.32" r="2.12"/><circle cx="177.29" cy="307.32" r="2.12"/><circle cx="180.21" cy="307.32" r="2.12"/><circle cx="183.13" cy="307.32" r="2.12"/></g>
<line x1="172.19" y1="307.32" x2="254.92" y2="224.67" stroke="#ff0000" stroke-width="1.20"/>
<rect x="163.50" y="206.50" width="110.00" height="110.00" fill="none" stroke="#6e6e6e" stroke-width="1.0"/>
<line x1="163.00" y1="316.50" x2="163.00" y2="318.62" stroke="#6e6e6e" stroke-width="1.0"/>
<line x1="160.88" y1="316.50" x2="163.00" y2="316.50" stroke="#6e6e6e" stroke-width="1.0"/>
<text x="163.00" y="325.49" font-size="6.35" text-anchor="middle" fill="#1f1f1f" stroke="#1f1f1f" stroke-width="0.1">0</text>
<text x="158.76" y="319.01" font-size="6.35" text-anchor="end" fill="#1f1f1f" stroke="#1f1f1f" stroke-width="0.1">0</text>
<line x1="181.38" y1="316.50" x2="181.38" y2="318.62" stroke="#6e6e6e" stroke-width="1.0"/>
<line x1="160.88" y1="298.13" x2="163.00" y2="298.13" stroke="#6e6e6e" stroke-width="1.0"/>
<text x="181.38" y="325.49" font-size="6.35" text-anchor="middle" fill="#1f1f1f" stroke="#1f1f1f" stroke-width="0.1">2</text>
<text x="158.76" y="300.64" font-size="6.35" text-anchor="end" fill="#1f1f1f" stroke="#1f1f1f" stroke-width="0.1">2</text>
<line x1="199.77" y1="316.50" x2="199.77" y2="318.62" stroke="#6e6e6e" stroke-width="1.0"/>
<line x1="160.88" y1="279.77" x2="163.00" y2="279.77" stroke="#6e6e6e" stroke-width="1.0"/>
<text x="199.77" y="325.49" font-size="6.35" text-anchor="middle" fill="#1f1f1f" stroke="#1f1f1f" stroke-width="0.1">4</text>
<text x="158.76" y="282.27" font-size="6.35" text-anchor="end" fill="#1f1f1f" stroke="#1f1f1f" stroke-width="0.1">4</text>
<line x1="218.15" y1="316.50" x2="218.15" y2="318.62" stroke="#6e6e6e" stroke-width="1.0"/>
<line x1="160.88" y1="261.40" x2="163.00" y2="261.40" stroke="#6e6e6e" stroke-width="1.0"/>
<text x="218.15" y="325.49" font-size="6.35" text-anchor="middle" fill="#1f1f1f" stroke="#1f1f1f" stroke-width="0.1">6</text>
<text x="158.76" y="263.91" font-size="6.35" text-anchor="end" fill="#1f1f1f" stroke="#1f1f1f" stroke-width="0.1">6</text>
<line x1="236.53" y1="316.50" x2="236.53" y2="318.62" stroke="#6e6e6e" stroke-width="1.0"/>
<line x1="160.88" y1="243.03" x2="163.00" y2="243.03" stroke="#6e6e6e" stroke-width="1.0"/>
<text x="236.53" y="325.49" font-size="6.35" text-anchor="middle" fill="#1f1f1f" stroke="#1f1f1f" stroke-width="0.1">8</text>
<text x="158.76" y="245.54" font-size="6.35" text-anchor="end" fill="#1f1f1f" stroke="#1f1f1f" stroke-width="0.1">8</text>
<line x1="254.92" y1="316.50" x2="254.92" y2="318.62" stroke="#6e6e6e" stroke-width="1.0"/>
<line x1="160.88" y1="224.67" x2="163.00" y2="224.67" stroke="#6e6e6e" stroke-width="1.0"/>
<text x="254.92" y="325.49" font-size="6.35" text-anchor="middle" fill="#1f1f1f" stroke="#1f1f1f" stroke-width="0.1">10</text>
<text x="158.76" y="227.17" font-size="6.35" text-anchor="end" fill="#1f1f1f" stroke="#1f1f1f" stroke-width="0.1">10</text>
<line x1="273.30" y1="316.50" x2="273.30" y2="318.62" stroke="#6e6e6e" stroke-width="1.0"/>
<line x1="160.88" y1="206.30" x2="163.00" y2="206.30" stroke="#6e6e6e" stroke-width="1.0"/>
<text x="273.30" y="325.49" font-size="6.35" text-anchor="middle" fill="#1f1f1f" stroke="#1f1f1f" stroke-width="0.1">12</text>
<text x="158.76" y="208.81" font-size="6.35" text-anchor="end" fill="#1f1f1f" stroke="#1f1f1f" stroke-width="0.1">12</text>
<text x="218.15" y="203.47" font-size="8.42" text-anchor="middle" textLength="53.43" lengthAdjust="spacingAndGlyphs" fill="#1f1f1f" stroke="#1f1f1f" stroke-width="0.2">Distilled Model</text>
<text x="218.15" y="334.85" font-size="7.02" text-anchor="middle" textLength="60.68" lengthAdjust="spacingAndGlyphs" fill="#1f1f1f" stroke="#1f1f1f" stroke-width="0.12">Predicted QoL Value</text>
<text x="147.09" y="261.40" font-size="7.02" text-anchor="middle" textLength="51.24" lengthAdjust="spacingAndGlyphs" transform="rotate(-90 147.09 261.40)" fill="#1f1f1f" stroke="#1f1f1f" stroke-width="0.12">Actual QoL Value</text>
<text x="139.20" y="187.00" font-size="8.42" text-anchor="middle" textLength="38.33" lengthAdjust="spacingAndGlyphs" fill="#1f1f1f" stroke="#1f1f1f" stroke-width="0.2">Pedestrain</text>
<g fill="#1f77b4"><circle cx="310.26" cy="307.73" r="2.03"/><circle cx="311.29" cy="307.73" r="2.03"/><circle cx="312.32" cy="307.73" r="2.03"/><circle cx="313.34" cy="307.73" r="2.03"/><circle cx="321.01" cy="298.95" r="2.03"/><circle cx="321.92" cy="298.95" r="2.03"/><circle cx="322.83" cy="298.95" r="2.03"/><circle cx="323.74" cy="298.95" r="2.03"/><circle cx="327.88" cy="290.18" r="2.03"/><circle cx="329.01" cy="290.18" r="2.03"/><circle cx="330.13" cy="290.18" r="2.03"/><circle cx="331.26" cy="290.18" r="2.03"/><circle cx="332.39" cy="290.18" r="2.03"/><circle cx="333.52" cy="290.18" r="2.03"/><circle cx="336.16" cy="281.40" r="2.03"/><circle cx="337.29" cy="281.40" r="2.03"/><circle cx="338.41" cy="281.40" r="2.03"/><circle cx="339.54" cy="281.40" r="2.03"/><circle cx="340.67" cy="281.40" r="2.03"/><circle cx="341.80" cy="281.40" r="2.03"/><circle cx="344.09" cy="272.62" r="2.03"/><circle cx="345.19" cy="272.62" r="2.03"/><circle cx="346.29" cy="272.62" r="2.03"/><circle cx="347.39" cy="272.62" r="2.03"/><circle cx="348.49" cy="272.62" r="2.03"/><circle cx="349.59" cy="272.62" r="2.03"/><circle cx="350.69" cy="272.62" r="2.03"/><circle cx="354.30" cy="263.85" r="2.03"/><circle cx="355.25" cy="263.85" r="2.03"/><circle cx="356.21" cy="263.85" r="2.03"/><circle cx="357.16" cy="263.85" r="2.03"/><circle cx="358.11" cy="263.85" r="2.03"/><circle cx="359.06" cy="263.85" r="2.03"/><circle cx="363.82" cy="255.07" r="2.03"/><circle cx="364.96" cy="255.07" r="2.03"/><circle cx="366.11" cy="255.07" r="2.03"/><circle cx="367.25" cy="255.07" r="2.03"/><circle cx="368.40" cy="255.07" r="2.03"/><circle cx="372.54" cy="246.30" r="2.03"/><circle cx="373.57" cy="246.30" r="2.03"/><circle cx="374.61" cy="246.30" r="2.03"/><circle cx="375.64" cy="246.30" r="2.03"/><circle cx="376.68" cy="246.30" r="2.03"/><circle cx="380.82" cy="237.52" r="2.03"/><circle cx="381.76" cy="237.52" r="2.03"/><circle cx="382.71" cy="237.52" r="2.03"/><circle cx="383.66" cy="237.52" r="2.03"/><circle cx="384.60" cy="237.52" r="2.03"/><circle cx="390.86" cy="228.75" r="2.03"/><circle cx="391.89" cy="228.75" r="2.03"/><circle cx="392.93" cy="228.75" r="2.03"/><circle cx="393.96" cy="228.75" r="2.03"/><circle cx="395.00" cy="228.75" r="2.03"/></g>
<line x1="313.61" y1="307.73" x2="392.88" y2="228.75" stroke="#ff0000" stroke-width="1.20"/>
<rect x="304.50" y="211.50" width="106.00" height="105.00" fill="none" stroke="#6e6e6e" stroke-width="1.0"/>
<line x1="304.80" y1="316.50" x2="304.80" y2="318.53" stroke="#6e6e6e" stroke-width="1.0"/>
<line x1="302.77" y1="316.50" x2="304.80" y2="316.50" stroke="#6e6e6e" stroke-width="1.0"/>
<text x="304.80" y="324.23" font-size="6.09" text-anchor="middle" fill="#1f1f1f" stroke="#1f1f1f" stroke-width="0.1">0</text>
<text x="300.74" y="318.42" font-size="6.09" text-anchor="end" fill="#1f1f1f" stroke="#1f1f1f" stroke-width="0.1">0</text>
<line x1="322.42" y1="316.50" x2="322.42" y2="318.53" stroke="#6e6e6e" stroke-width="1.0"/>
<line x1="302.77" y1="298.95" x2="304.80" y2="298.95" stroke="#6e6e6e" stroke-width="1.0"/>
<text x="322.42" y="324.23" font-size="6.09" text-anchor="middle" fill="#1f1f1f" stroke="#1f1f1f" stroke-width="0.1">2</text>
<text x="300.74" y="300.87" font-size="6.09" text-anchor="end" fill="#1f1f1f" stroke="#1f1f1f" stroke-width="0.1">2</text>
<line x1="340.03" y1="316.50" x2="340.03" y2="318.53" stroke="#6e6e6e" stroke-width="1.0"/>
<line x1="302.77" y1="281.40" x2="304.80" y2="281.40" stroke="#6e6e6e" stroke-width="1.0"/>
<text x="340.03" y="324.23" font-size="6.09" text-anchor="middle" fill="#1f1f1f" stroke="#1f1f1f" stroke-width="0.1">4</text>
<text x="300.74" y="283.32" font-size="6.09" text-anchor="end" fill="#1f1f1f" stroke="#1f1f1f" stroke-width="0.1">4</text>
<line x1="357.65" y1="316.50" x2="357.65" y2="318.53" stroke="#6e6e6e" stroke-width="1.0"/>
<line x1="302.77" y1="263.85" x2="304.80" y2="263.85" stroke="#6e6e6e" stroke-width="1.0"/>
<text x="357.65" y="324.23" font-size="6.09" text-anchor="middle" fill="#1f1f1f" stroke="#1f1f1f" stroke-width="0.1">6</text>
<text x="300.74" y="265.77" font-size="6.09" text-anchor="end" fill="#1f1f1f" stroke="#1f1f1f" stroke-width="0.1">6</text>
<line x1="375.27" y1="316.50" x2="375.27" y2="318.53" stroke="#6e6e6e" stroke-width="1.0"/>
<line x1="302.77" y1="246.30" x2="304.80" y2="246.30" stroke="#6e6e6e" stroke-width="1.0"/>
<text x="375.27" y="324.23" font-size="6.09" text-anchor="middle" fill="#1f1f1f" stroke="#1f1f1f" stroke-width="0.1">8</text>
<text x="300.74" y="248.22" font-size="6.09" text-anchor="end" fill="#1f1f1f" stroke="#1f1f1f" stroke-width="0.1">8</text>
<line x1="392.88" y1="316.50" x2="392.88" y2="318.53" stroke="#6e6e6e" stroke-width="1.0"/>
<line x1="302.77" y1="228.75" x2="304.80" y2="228.75" stroke="#6e6e6e" stroke-width="1.0"/>
<text x="392.88" y="324.23" font-size="6.09" text-anchor="middle" fill="#1f1f1f" stroke="#1f1f1f" stroke-width="0.1">10</text>
<text x="300.74" y="230.67" font-size="6.09" text-anchor="end" fill="#1f1f1f" stroke="#1f1f1f" stroke-width="0.1">10</text>
<line x1="410.50" y1="316.50" x2="410.50" y2="318.53" stroke="#6e6e6e" stroke-width="1.0"/>
<line x1="302.77" y1="211.20" x2="304.80" y2="211.20" stroke="#6e6e6e" stroke-width="1.0"/>
<text x="410.50" y="324.23" font-size="6.09" text-anchor="middle" fill="#1f1f1f" stroke="#1f1f1f" stroke-width="0.1">12</text>
<text x="300.74" y="213.12" font-size="6.09" text-anchor="end" fill="#1f1f1f" stroke="#1f1f1f" stroke-width="0.1">12</text>
<text x="357.65" y="207.32" font-size="8.07" text-anchor="middle" textLength="50.18" lengthAdjust="spacingAndGlyphs" fill="#1f1f1f" stroke="#1f1f1f" stroke-width="0.2">Teacher Model</text>
<text x="357.65" y="333.81" font-size="6.73" text-anchor="middle" textLength="58.17" lengthAdjust="spacingAndGlyphs" fill="#1f1f1f" stroke="#1f1f1f" stroke-width="0.12">Predicted QoL Value</text>
<text x="289.55" y="263.85" font-size="6.73" text-anchor="middle" textLength="49.13" lengthAdjust="spacingAndGlyphs" transform="rotate(-90 289.55 263.85)" fill="#1f1f1f" stroke="#1f1f1f" stroke-width="0.12">Actual QoL Value</text>
<g fill="#1f77b4"><circle cx="501.02" cy="228.75" r="2.03"/><circle cx="510.76" cy="228.75" r="2.03"/><circle cx="513.35" cy="228.75" r="2.03"/><circle cx="515.94" cy="228.75" r="2.03"/><circle cx="522.17" cy="228.75" r="2.03"/><circle cx="494.18" cy="237.52" r="2.03"/><circle cx="507.69" cy="237.52" r="2.03"/><circle cx="510.44" cy="237.52" r="2.03"/><circle cx="513.19" cy="237.52" r="2.03"/><circle cx="515.94" cy="237.52" r="2.03"/><circle cx="489.00" cy="246.30" r="2.03"/><circle cx="491.52" cy="246.30" r="2.03"/><circle cx="494.04" cy="246.30" r="2.03"/><circle cx="496.56" cy="246.30" r="2.03"/><circle cx="499.08" cy="246.30" r="2.03"/><circle cx="501.60" cy="246.30" r="2.03"/><circle cx="504.12" cy="246.30" r="2.03"/><circle cx="506.64" cy="246.30" r="2.03"/><circle cx="512.87" cy="246.30" r="2.03"/><circle cx="521.82" cy="246.30" r="2.03"/><circle cx="479.61" cy="255.07" r="2.03"/><circle cx="482.27" cy="255.07" r="2.03"/><circle cx="484.93" cy="255.07" r="2.03"/><circle cx="487.59" cy="255.07" r="2.03"/><circle cx="490.25" cy="255.07" r="2.03"/><circle cx="492.91" cy="255.07" r="2.03"/><circle cx="495.56" cy="255.07" r="2.03"/><circle cx="498.22" cy="255.07" r="2.03"/><circle cx="500.88" cy="255.07" r="2.03"/><circle cx="503.54" cy="255.07" r="2.03"/><circle cx="506.20" cy="255.07" r="2.03"/><circle cx="509.71" cy="255.07" r="2.03"/><circle cx="476.10" cy="263.85" r="2.03"/><circle cx="481.72" cy="263.85" r="2.03"/><circle cx="487.95" cy="263.85" r="2.03"/><circle cx="490.36" cy="263.85" r="2.03"/><circle cx="492.77" cy="263.85" r="2.03"/><circle cx="495.19" cy="263.85" r="2.03"/><circle cx="497.60" cy="263.85" r="2.03"/><circle cx="500.01" cy="263.85" r="2.03"/><circle cx="502.43" cy="263.85" r="2.03"/><circle cx="471.28" cy="272.62" r="2.03"/><circle cx="473.70" cy="272.62" r="2.03"/><circle cx="476.13" cy="272.62" r="2.03"/><circle cx="478.56" cy="272.62" r="2.03"/><circle cx="485.40" cy="272.62" r="2.03"/><circle cx="487.90" cy="272.62" r="2.03"/><circle cx="490.39" cy="272.62" r="2.03"/><circle cx="492.88" cy="272.62" r="2.03"/><circle cx="495.37" cy="272.62" r="2.03"/><circle cx="497.86" cy="272.62" r="2.03"/><circle cx="461.97" cy="281.40" r="2.03"/><circle cx="464.63" cy="281.40" r="2.03"/><circle cx="467.28" cy="281.40" r="2.03"/><circle cx="469.93" cy="281.40" r="2.03"/><circle cx="472.58" cy="281.40" r="2.03"/><circle cx="475.23" cy="281.40" r="2.03"/><circle cx="477.89" cy="281.40" r="2.03"/><circle cx="480.54" cy="281.40" r="2.03"/><circle cx="483.19" cy="281.40" r="2.03"/><circle cx="485.84" cy="281.40" r="2.03"/><circle cx="494.79" cy="281.40" r="2.03"/><circle cx="498.30" cy="281.40" r="2.03"/><circle cx="454.25" cy="290.18" r="2.03"/><circle cx="463.03" cy="290.18" r="2.03"/><circle cx="465.52" cy="290.18" r="2.03"/><circle cx="468.01" cy="290.18" r="2.03"/><circle cx="470.50" cy="290.18" r="2.03"/><circle cx="473.00" cy="290.18" r="2.03"/><circle cx="475.49" cy="290.18" r="2.03"/><circle cx="484.17" cy="290.18" r="2.03"/><circle cx="486.89" cy="290.18" r="2.03"/><circle cx="454.69" cy="298.95" r="2.03"/><circle cx="457.27" cy="298.95" r="2.03"/><circle cx="459.85" cy="298.95" r="2.03"/><circle cx="462.43" cy="298.95" r="2.03"/><circle cx="465.01" cy="298.95" r="2.03"/><circle cx="467.59" cy="298.95" r="2.03"/><circle cx="473.82" cy="298.95" r="2.03"/><circle cx="456.18" cy="307.73" r="2.03"/><circle cx="461.97" cy="307.73" r="2.03"/></g>
<line x1="444.77" y1="307.73" x2="523.75" y2="228.75" stroke="#ff0000" stroke-width="1.20"/>
<rect x="436.50" y="211.50" width="105.00" height="105.00" fill="none" stroke="#6e6e6e" stroke-width="1.0"/>
<line x1="436.00" y1="316.50" x2="436.00" y2="318.53" stroke="#6e6e6e" stroke-width="1.0"/>
<line x1="433.97" y1="316.50" x2="436.00" y2="316.50" stroke="#6e6e6e" stroke-width="1.0"/>
<text x="436.00" y="324.23" font-size="6.09" text-anchor="middle" fill="#1f1f1f" stroke="#1f1f1f" stroke-width="0.1">0</text>
<text x="431.94" y="318.42" font-size="6.09" text-anchor="end" fill="#1f1f1f" stroke="#1f1f1f" stroke-width="0.1">0</text>
<line x1="453.55" y1="316.50" x2="453.55" y2="318.53" stroke="#6e6e6e" stroke-width="1.0"/>
<line x1="433.97" y1="298.95" x2="436.00" y2="298.95" stroke="#6e6e6e" stroke-width="1.0"/>
<text x="453.55" y="324.23" font-size="6.09" text-anchor="middle" fill="#1f1f1f" stroke="#1f1f1f" stroke-width="0.1">2</text>
<text x="431.94" y="300.87" font-size="6.09" text-anchor="end" fill="#1f1f1f" stroke="#1f1f1f" stroke-width="0.1">2</text>
<line x1="471.10" y1="316.50" x2="471.10" y2="318.53" stroke="#6e6e6e" stroke-width="1.0"/>
<line x1="433.97" y1="281.40" x2="436.00" y2="281.40" stroke="#6e6e6e" stroke-width="1.0"/>
<text x="471.10" y="324.23" font-size="6.09" text-anchor="middle" fill="#1f1f1f" stroke="#1f1f1f" stroke-width="0.1">4</text>
<text x="431.94" y="283.32" font-size="6.09" text-anchor="end" fill="#1f1f1f" stroke="#1f1f1f" stroke-width="0.1">4</text>
<line x1="488.65" y1="316.50" x2="488.65" y2="318.53" stroke="#6e6e6e" stroke-width="1.0"/>
<line x1="433.97" y1="263.85" x2="436.00" y2="263.85" stroke="#6e6e6e" stroke-width="1.0"/>
<text x="488.65" y="324.23" font-size="6.09" text-anchor="middle" fill="#1f1f1f" stroke="#1f1f1f" stroke-width="0.1">6</text>
<text x="431.94" y="265.77" font-size="6.09" text-anchor="end" fill="#1f1f1f" stroke="#1f1f1f" stroke-width="0.1">6</text>
<line x1="506.20" y1="316.50" x2="506.20" y2="318.53" stroke="#6e6e6e" stroke-width="1.0"/>
<line x1="433.97" y1="246.30" x2="436.00" y2="246.30" stroke="#6e6e6e" stroke-width="1.0"/>
<text x="506.20" y="324.23" font-size="6.09" text-anchor="middle" fill="#1f1f1f" stroke="#1f1f1f" stroke-width="0.1">8</text>
<text x="431.94" y="248.22" font-size="6.09" text-anchor="end" fill="#1f1f1f" stroke="#1f1f1f" stroke-width="0.1">8</text>
<line x1="523.75" y1="316.50" x2="523.75" y2="318.53" stroke="#6e6e6e" stroke-width="1.0"/>
<line x1="433.97" y1="228.75" x2="436.00" y2="228.75" stroke="#6e6e6e" stroke-width="1.0"/>
<text x="523.75" y="324.23" font-size="6.09" text-anchor="middle" fill="#1f1f1f" stroke="#1f1f1f" stroke-width="0.1">10</text>
<text x="431.94" y="230.67" font-size="6.09" text-anchor="end" fill="#1f1f1f" stroke="#1f1f1f" stroke-width="0.1">10</text>
<line x1="541.30" y1="316.50" x2="541.30" y2="318.53" stroke="#6e6e6e" stroke-width="1.0"/>
<line x1="433.97" y1="211.20" x2="436.00" y2="211.20" stroke="#6e6e6e" stroke-width="1.0"/>
<text x="541.30" y="324.23" font-size="6.09" text-anchor="middle" fill="#1f1f1f" stroke="#1f1f1f" stroke-width="0.1">12</text>
<text x="431.94" y="213.12" font-size="6.09" text-anchor="end" fill="#1f1f1f" stroke="#1f1f1f" stroke-width="0.1">12</text>
<text x="488.65" y="207.32" font-size="8.07" text-anchor="middle" textLength="51.23" lengthAdjust="spacingAndGlyphs" fill="#1f1f1f" stroke="#1f1f1f" stroke-width="0.2">Distilled Model</text>
<text x="488.65" y="333.81" font-size="6.73" text-anchor="middle" textLength="58.17" lengthAdjust="spacingAndGlyphs" fill="#1f1f1f" stroke="#1f1f1f" stroke-width="0.12">Predicted QoL Value</text>
<text x="420.75" y="263.85" font-size="6.73" text-anchor="middle" textLength="49.13" lengthAdjust="spacingAndGlyphs" transform="rotate(-90 420.75 263.85)" fill="#1f1f1f" stroke="#1f1f1f" stroke-width="0.12">Actual QoL Value</text>
<text x="412.80" y="191.50" font-size="8.07" text-anchor="middle" textLength="37.10" lengthAdjust="spacingAndGlyphs" fill="#1f1f1f" stroke="#1f1f1f" stroke-width="0.2">Brightness</text>
<g fill="#1f77b4"><circle cx="41.61" cy="478.52" r="2.03"/><circle cx="49.35" cy="469.73" r="2.03"/><circle cx="50.44" cy="469.73" r="2.03"/><circle cx="51.52" cy="469.73" r="2.03"/><circle cx="52.61" cy="469.73" r="2.03"/><circle cx="59.30" cy="460.93" r="2.03"/><circle cx="60.53" cy="460.93" r="2.03"/><circle cx="61.76" cy="460.93" r="2.03"/><circle cx="66.51" cy="452.14" r="2.03"/><circle cx="67.57" cy="452.14" r="2.03"/><circle cx="68.62" cy="452.14" r="2.03"/><circle cx="74.26" cy="443.35" r="2.03"/><circle cx="75.28" cy="443.35" r="2.03"/><circle cx="76.31" cy="443.35" r="2.03"/><circle cx="77.34" cy="443.35" r="2.03"/><circle cx="78.36" cy="443.35" r="2.03"/><circle cx="79.39" cy="443.35" r="2.03"/><circle cx="80.42" cy="443.35" r="2.03"/><circle cx="82.53" cy="434.56" r="2.03"/><circle cx="83.57" cy="434.56" r="2.03"/><circle cx="84.60" cy="434.56" r="2.03"/><circle cx="85.64" cy="434.56" r="2.03"/><circle cx="86.68" cy="434.56" r="2.03"/><circle cx="87.72" cy="434.56" r="2.03"/><circle cx="92.12" cy="425.77" r="2.03"/><circle cx="93.24" cy="425.77" r="2.03"/><circle cx="94.36" cy="425.77" r="2.03"/><circle cx="95.49" cy="425.77" r="2.03"/><circle cx="96.61" cy="425.77" r="2.03"/><circle cx="100.74" cy="416.98" r="2.03"/><circle cx="101.78" cy="416.98" r="2.03"/><circle cx="102.81" cy="416.98" r="2.03"/><circle cx="103.85" cy="416.98" r="2.03"/><circle cx="104.88" cy="416.98" r="2.03"/><circle cx="110.16" cy="408.18" r="2.03"/><circle cx="111.27" cy="408.18" r="2.03"/><circle cx="112.38" cy="408.18" r="2.03"/><circle cx="113.49" cy="408.18" r="2.03"/><circle cx="114.60" cy="408.18" r="2.03"/><circle cx="115.70" cy="408.18" r="2.03"/></g>
<line x1="33.60" y1="487.31" x2="112.80" y2="408.18" stroke="#ff0000" stroke-width="1.20"/>
<rect x="24.50" y="390.50" width="106.00" height="106.00" fill="none" stroke="#6e6e6e" stroke-width="1.0"/>
<line x1="24.80" y1="496.10" x2="24.80" y2="498.13" stroke="#6e6e6e" stroke-width="1.0"/>
<line x1="22.77" y1="496.10" x2="24.80" y2="496.10" stroke="#6e6e6e" stroke-width="1.0"/>
<text x="24.80" y="504.53" font-size="6.09" text-anchor="middle" fill="#1f1f1f" stroke="#1f1f1f" stroke-width="0.1">0</text>
<text x="20.74" y="498.52" font-size="6.09" text-anchor="end" fill="#1f1f1f" stroke="#1f1f1f" stroke-width="0.1">0</text>
<line x1="42.40" y1="496.10" x2="42.40" y2="498.13" stroke="#6e6e6e" stroke-width="1.0"/>
<line x1="22.77" y1="478.52" x2="24.80" y2="478.52" stroke="#6e6e6e" stroke-width="1.0"/>
<text x="42.40" y="504.53" font-size="6.09" text-anchor="middle" fill="#1f1f1f" stroke="#1f1f1f" stroke-width="0.1">2</text>
<text x="20.74" y="480.93" font-size="6.09" text-anchor="end" fill="#1f1f1f" stroke="#1f1f1f" stroke-width="0.1">2</text>
<line x1="60.00" y1="496.10" x2="60.00" y2="498.13" stroke="#6e6e6e" stroke-width="1.0"/>
<line x1="22.77" y1="460.93" x2="24.80" y2="460.93" stroke="#6e6e6e" stroke-width="1.0"/>
<text x="60.00" y="504.53" font-size="6.09" text-anchor="middle" fill="#1f1f1f" stroke="#1f1f1f" stroke-width="0.1">4</text>
<text x="20.74" y="463.35" font-size="6.09" text-anchor="end" fill="#1f1f1f" stroke="#1f1f1f" stroke-width="0.1">4</text>
<line x1="77.60" y1="496.10" x2="77.60" y2="498.13" stroke="#6e6e6e" stroke-width="1.0"/>
<line x1="22.77" y1="443.35" x2="24.80" y2="443.35" stroke="#6e6e6e" stroke-width="1.0"/>
<text x="77.60" y="504.53" font-size="6.09" text-anchor="middle" fill="#1f1f1f" stroke="#1f1f1f" stroke-width="0.1">6</text>
<text x="20.74" y="445.77" font-size="6.09" text-anchor="end" fill="#1f1f1f" stroke="#1f1f1f" stroke-width="0.1">6</text>
<line x1="95.20" y1="496.10" x2="95.20" y2="498.13" stroke="#6e6e6e" stroke-width="1.0"/>
<line x1="22.77" y1="425.77" x2="24.80" y2="425.77" stroke="#6e6e6e" stroke-width="1.0"/>
<text x="95.20" y="504.53" font-size="6.09" text-anchor="middle" fill="#1f1f1f" stroke="#1f1f1f" stroke-width="0.1">8</text>
<text x="20.74" y="428.18" font-size="6.09" text-anchor="end" fill="#1f1f1f" stroke="#1f1f1f" stroke-width="0.1">8</text>
<line x1="112.80" y1="496.10" x2="112.80" y2="498.13" stroke="#6e6e6e" stroke-width="1.0"/>
<line x1="22.77" y1="408.18" x2="24.80" y2="408.18" stroke="#6e6e6e" stroke-width="1.0"/>
<text x="112.80" y="504.53" font-size="6.09" text-anchor="middle" fill="#1f1f1f" stroke="#1f1f1f" stroke-width="0.1">10</text>
<text x="20.74" y="410.60" font-size="6.09" text-anchor="end" fill="#1f1f1f" stroke="#1f1f1f" stroke-width="0.1">10</text>
<line x1="130.40" y1="496.10" x2="130.40" y2="498.13" stroke="#6e6e6e" stroke-width="1.0"/>
<line x1="22.77" y1="390.60" x2="24.80" y2="390.60" stroke="#6e6e6e" stroke-width="1.0"/>
<text x="130.40" y="504.53" font-size="6.09" text-anchor="middle" fill="#1f1f1f" stroke="#1f1f1f" stroke-width="0.1">12</text>
<text x="20.74" y="393.02" font-size="6.09" text-anchor="end" fill="#1f1f1f" stroke="#1f1f1f" stroke-width="0.1">12</text>
<text x="77.60" y="386.92" font-size="8.07" text-anchor="middle" textLength="50.18" lengthAdjust="spacingAndGlyphs" fill="#1f1f1f" stroke="#1f1f1f" stroke-width="0.2">Teacher Model</text>
<text x="77.60" y="513.71" font-size="6.73" text-anchor="middle" textLength="58.17" lengthAdjust="spacingAndGlyphs" fill="#1f1f1f" stroke="#1f1f1f" stroke-width="0.12">Predicted QoL Value</text>
<text x="9.55" y="443.35" font-size="6.73" text-anchor="middle" textLength="49.13" lengthAdjust="spacingAndGlyphs" transform="rotate(-90 9.55 443.35)" fill="#1f1f1f" stroke="#1f1f1f" stroke-width="0.12">Actual QoL Value</text>
<g fill="#1f77b4"><circle cx="232.85" cy="408.18" r="2.03"/><circle cx="237.69" cy="408.18" r="2.03"/><circle cx="242.26" cy="408.18" r="2.03"/><circle cx="245.21" cy="408.18" r="2.03"/><circle cx="248.15" cy="408.18" r="2.03"/><circle cx="251.10" cy="408.18" r="2.03"/><circle cx="254.04" cy="408.18" r="2.03"/><circle cx="227.67" cy="416.98" r="2.03"/><circle cx="230.26" cy="416.98" r="2.03"/><circle cx="232.85" cy="416.98" r="2.03"/><circle cx="238.48" cy="416.98" r="2.03"/><circle cx="240.77" cy="416.98" r="2.03"/><circle cx="243.05" cy="416.98" r="2.03"/><circle cx="245.34" cy="416.98" r="2.03"/><circle cx="252.20" cy="416.98" r="2.03"/><circle cx="255.10" cy="416.98" r="2.03"/><circle cx="220.46" cy="425.77" r="2.03"/><circle cx="223.13" cy="425.77" r="2.03"/><circle cx="225.80" cy="425.77" r="2.03"/><circle cx="228.47" cy="425.77" r="2.03"/><circle cx="231.14" cy="425.77" r="2.03"/><circle cx="233.81" cy="425.77" r="2.03"/><circle cx="236.48" cy="425.77" r="2.03"/><circle cx="239.15" cy="425.77" r="2.03"/><circle cx="241.82" cy="425.77" r="2.03"/><circle cx="212.11" cy="434.56" r="2.03"/><circle cx="214.78" cy="434.56" r="2.03"/><circle cx="217.46" cy="434.56" r="2.03"/><circle cx="220.13" cy="434.56" r="2.03"/><circle cx="222.81" cy="434.56" r="2.03"/><circle cx="225.48" cy="434.56" r="2.03"/><circle cx="228.16" cy="434.56" r="2.03"/><circle cx="230.83" cy="434.56" r="2.03"/><circle cx="206.92" cy="443.35" r="2.03"/><circle cx="209.44" cy="443.35" r="2.03"/><circle cx="211.97" cy="443.35" r="2.03"/><circle cx="214.49" cy="443.35" r="2.03"/><circle cx="217.02" cy="443.35" r="2.03"/><circle cx="219.54" cy="443.35" r="2.03"/><circle cx="222.07" cy="443.35" r="2.03"/><circle cx="224.59" cy="443.35" r="2.03"/><circle cx="232.24" cy="443.35" r="2.03"/><circle cx="203.23" cy="452.14" r="2.03"/><circle cx="206.13" cy="452.14" r="2.03"/><circle cx="209.03" cy="452.14" r="2.03"/><circle cx="215.27" cy="452.14" r="2.03"/><circle cx="198.66" cy="460.93" r="2.03"/><circle cx="201.25" cy="460.93" r="2.03"/><circle cx="203.84" cy="460.93" r="2.03"/><circle cx="212.11" cy="460.93" r="2.03"/><circle cx="214.66" cy="460.93" r="2.03"/><circle cx="187.84" cy="469.73" r="2.03"/><circle cx="190.74" cy="469.73" r="2.03"/><circle cx="198.66" cy="469.73" r="2.03"/><circle cx="201.25" cy="469.73" r="2.03"/><circle cx="203.84" cy="469.73" r="2.03"/><circle cx="211.05" cy="469.73" r="2.03"/><circle cx="201.73" cy="478.52" r="2.03"/><circle cx="206.48" cy="478.52" r="2.03"/></g>
<line x1="164.19" y1="487.31" x2="243.32" y2="408.18" stroke="#ff0000" stroke-width="1.20"/>
<rect x="155.50" y="390.50" width="105.00" height="106.00" fill="none" stroke="#6e6e6e" stroke-width="1.0"/>
<line x1="155.40" y1="496.10" x2="155.40" y2="498.13" stroke="#6e6e6e" stroke-width="1.0"/>
<line x1="153.37" y1="496.10" x2="155.40" y2="496.10" stroke="#6e6e6e" stroke-width="1.0"/>
<text x="155.40" y="504.53" font-size="6.09" text-anchor="middle" fill="#1f1f1f" stroke="#1f1f1f" stroke-width="0.1">0</text>
<text x="151.34" y="498.52" font-size="6.09" text-anchor="end" fill="#1f1f1f" stroke="#1f1f1f" stroke-width="0.1">0</text>
<line x1="172.98" y1="496.10" x2="172.98" y2="498.13" stroke="#6e6e6e" stroke-width="1.0"/>
<line x1="153.37" y1="478.52" x2="155.40" y2="478.52" stroke="#6e6e6e" stroke-width="1.0"/>
<text x="172.98" y="504.53" font-size="6.09" text-anchor="middle" fill="#1f1f1f" stroke="#1f1f1f" stroke-width="0.1">2</text>
<text x="151.34" y="480.93" font-size="6.09" text-anchor="end" fill="#1f1f1f" stroke="#1f1f1f" stroke-width="0.1">2</text>
<line x1="190.57" y1="496.10" x2="190.57" y2="498.13" stroke="#6e6e6e" stroke-width="1.0"/>
<line x1="153.37" y1="460.93" x2="155.40" y2="460.93" stroke="#6e6e6e" stroke-width="1.0"/>
<text x="190.57" y="504.53" font-size="6.09" text-anchor="middle" fill="#1f1f1f" stroke="#1f1f1f" stroke-width="0.1">4</text>
<text x="151.34" y="463.35" font-size="6.09" text-anchor="end" fill="#1f1f1f" stroke="#1f1f1f" stroke-width="0.1">4</text>
<line x1="208.15" y1="496.10" x2="208.15" y2="498.13" stroke="#6e6e6e" stroke-width="1.0"/>
<line x1="153.37" y1="443.35" x2="155.40" y2="443.35" stroke="#6e6e6e" stroke-width="1.0"/>
<text x="208.15" y="504.53" font-size="6.09" text-anchor="middle" fill="#1f1f1f" stroke="#1f1f1f" stroke-width="0.1">6</text>
<text x="151.34" y="445.77" font-size="6.09" text-anchor="end" fill="#1f1f1f" stroke="#1f1f1f" stroke-width="0.1">6</text>
<line x1="225.73" y1="496.10" x2="225.73" y2="498.13" stroke="#6e6e6e" stroke-width="1.0"/>
<line x1="153.37" y1="425.77" x2="155.40" y2="425.77" stroke="#6e6e6e" stroke-width="1.0"/>
<text x="225.73" y="504.53" font-size="6.09" text-anchor="middle" fill="#1f1f1f" stroke="#1f1f1f" stroke-width="0.1">8</text>
<text x="151.34" y="428.18" font-size="6.09" text-anchor="end" fill="#1f1f1f" stroke="#1f1f1f" stroke-width="0.1">8</text>
<line x1="243.32" y1="496.10" x2="243.32" y2="498.13" stroke="#6e6e6e" stroke-width="1.0"/>
<line x1="153.37" y1="408.18" x2="155.40" y2="408.18" stroke="#6e6e6e" stroke-width="1.0"/>
<text x="243.32" y="504.53" font-size="6.09" text-anchor="middle" fill="#1f1f1f" stroke="#1f1f1f" stroke-width="0.1">10</text>
<text x="151.34" y="410.60" font-size="6.09" text-anchor="end" fill="#1f1f1f" stroke="#1f1f1f" stroke-width="0.1">10</text>
<line x1="260.90" y1="496.10" x2="260.90" y2="498.13" stroke="#6e6e6e" stroke-width="1.0"/>
<line x1="153.37" y1="390.60" x2="155.40" y2="390.60" stroke="#6e6e6e" stroke-width="1.0"/>
<text x="260.90" y="504.53" font-size="6.09" text-anchor="middle" fill="#1f1f1f" stroke="#1f1f1f" stroke-width="0.1">12</text>
<text x="151.34" y="393.02" font-size="6.09" text-anchor="end" fill="#1f1f1f" stroke="#1f1f1f" stroke-width="0.1">12</text>
<text x="208.15" y="386.92" font-size="8.07" text-anchor="middle" textLength="51.23" lengthAdjust="spacingAndGlyphs" fill="#1f1f1f" stroke="#1f1f1f" stroke-width="0.2">Distilled Model</text>
<text x="208.15" y="513.71" font-size="6.73" text-anchor="middle" textLength="58.17" lengthAdjust="spacingAndGlyphs" fill="#1f1f1f" stroke="#1f1f1f" stroke-width="0.12">Predicted QoL Value</text>
<text x="140.15" y="443.35" font-size="6.73" text-anchor="middle" textLength="49.13" lengthAdjust="spacingAndGlyphs" transform="rotate(-90 140.15 443.35)" fill="#1f1f1f" stroke="#1f1f1f" stroke-width="0.12">Actual QoL Value</text>
<text x="132.80" y="371.30" font-size="8.07" text-anchor="middle" textLength="48.44" lengthAdjust="spacingAndGlyphs" fill="#1f1f1f" stroke="#1f1f1f" stroke-width="0.2">Roadside Tree</text>
<g fill="#1f77b4"><circle cx="298.05" cy="487.46" r="2.13"/><circle cx="299.21" cy="487.46" r="2.13"/><circle cx="300.37" cy="487.46" r="2.13"/><circle cx="301.54" cy="487.46" r="2.13"/><circle cx="302.70" cy="487.46" r="2.13"/><circle cx="303.87" cy="487.46" r="2.13"/><circle cx="308.21" cy="478.22" r="2.13"/><circle cx="309.39" cy="478.22" r="2.13"/><circle cx="310.57" cy="478.22" r="2.13"/><circle cx="311.75" cy="478.22" r="2.13"/><circle cx="312.92" cy="478.22" r="2.13"/><circle cx="317.45" cy="468.98" r="2.13"/><circle cx="318.52" cy="468.98" r="2.13"/><circle cx="319.58" cy="468.98" r="2.13"/><circle cx="320.64" cy="468.98" r="2.13"/><circle cx="321.70" cy="468.98" r="2.13"/><circle cx="326.51" cy="459.73" r="2.13"/><circle cx="327.57" cy="459.73" r="2.13"/><circle cx="328.63" cy="459.73" r="2.13"/><circle cx="329.70" cy="459.73" r="2.13"/><circle cx="330.76" cy="459.73" r="2.13"/><circle cx="335.47" cy="450.49" r="2.13"/><circle cx="336.69" cy="450.49" r="2.13"/><circle cx="337.91" cy="450.49" r="2.13"/><circle cx="339.13" cy="450.49" r="2.13"/><circle cx="340.35" cy="450.49" r="2.13"/><circle cx="341.57" cy="450.49" r="2.13"/><circle cx="345.82" cy="441.25" r="2.13"/><circle cx="346.91" cy="441.25" r="2.13"/><circle cx="348.00" cy="441.25" r="2.13"/><circle cx="349.08" cy="441.25" r="2.13"/><circle cx="350.17" cy="441.25" r="2.13"/><circle cx="354.51" cy="432.01" r="2.13"/><circle cx="355.58" cy="432.01" r="2.13"/><circle cx="356.66" cy="432.01" r="2.13"/><circle cx="357.73" cy="432.01" r="2.13"/><circle cx="358.80" cy="432.01" r="2.13"/><circle cx="359.87" cy="432.01" r="2.13"/><circle cx="364.58" cy="422.77" r="2.13"/><circle cx="365.67" cy="422.77" r="2.13"/><circle cx="366.76" cy="422.77" r="2.13"/><circle cx="367.84" cy="422.77" r="2.13"/><circle cx="368.93" cy="422.77" r="2.13"/><circle cx="373.18" cy="413.52" r="2.13"/><circle cx="374.31" cy="413.52" r="2.13"/><circle cx="375.43" cy="413.52" r="2.13"/><circle cx="376.56" cy="413.52" r="2.13"/><circle cx="377.69" cy="413.52" r="2.13"/><circle cx="378.82" cy="413.52" r="2.13"/><circle cx="383.99" cy="404.28" r="2.13"/><circle cx="385.13" cy="404.28" r="2.13"/><circle cx="386.27" cy="404.28" r="2.13"/><circle cx="387.41" cy="404.28" r="2.13"/></g>
<line x1="301.74" y1="487.46" x2="384.92" y2="404.28" stroke="#ff0000" stroke-width="1.20"/>
<rect x="292.50" y="385.50" width="111.00" height="111.00" fill="none" stroke="#6e6e6e" stroke-width="1.0"/>
<line x1="292.50" y1="496.70" x2="292.50" y2="498.83" stroke="#6e6e6e" stroke-width="1.0"/>
<line x1="290.37" y1="496.70" x2="292.50" y2="496.70" stroke="#6e6e6e" stroke-width="1.0"/>
<text x="292.50" y="505.86" font-size="6.41" text-anchor="middle" fill="#1f1f1f" stroke="#1f1f1f" stroke-width="0.1">0</text>
<text x="288.23" y="499.23" font-size="6.41" text-anchor="end" fill="#1f1f1f" stroke="#1f1f1f" stroke-width="0.1">0</text>
<line x1="310.98" y1="496.70" x2="310.98" y2="498.83" stroke="#6e6e6e" stroke-width="1.0"/>
<line x1="290.37" y1="478.22" x2="292.50" y2="478.22" stroke="#6e6e6e" stroke-width="1.0"/>
<text x="310.98" y="505.86" font-size="6.41" text-anchor="middle" fill="#1f1f1f" stroke="#1f1f1f" stroke-width="0.1">2</text>
<text x="288.23" y="480.74" font-size="6.41" text-anchor="end" fill="#1f1f1f" stroke="#1f1f1f" stroke-width="0.1">2</text>
<line x1="329.47" y1="496.70" x2="329.47" y2="498.83" stroke="#6e6e6e" stroke-width="1.0"/>
<line x1="290.37" y1="459.73" x2="292.50" y2="459.73" stroke="#6e6e6e" stroke-width="1.0"/>
<text x="329.47" y="505.86" font-size="6.41" text-anchor="middle" fill="#1f1f1f" stroke="#1f1f1f" stroke-width="0.1">4</text>
<text x="288.23" y="462.26" font-size="6.41" text-anchor="end" fill="#1f1f1f" stroke="#1f1f1f" stroke-width="0.1">4</text>
<line x1="347.95" y1="496.70" x2="347.95" y2="498.83" stroke="#6e6e6e" stroke-width="1.0"/>
<line x1="290.37" y1="441.25" x2="292.50" y2="441.25" stroke="#6e6e6e" stroke-width="1.0"/>
<text x="347.95" y="505.86" font-size="6.41" text-anchor="middle" fill="#1f1f1f" stroke="#1f1f1f" stroke-width="0.1">6</text>
<text x="288.23" y="443.78" font-size="6.41" text-anchor="end" fill="#1f1f1f" stroke="#1f1f1f" stroke-width="0.1">6</text>
<line x1="366.43" y1="496.70" x2="366.43" y2="498.83" stroke="#6e6e6e" stroke-width="1.0"/>
<line x1="290.37" y1="422.77" x2="292.50" y2="422.77" stroke="#6e6e6e" stroke-width="1.0"/>
<text x="366.43" y="505.86" font-size="6.41" text-anchor="middle" fill="#1f1f1f" stroke="#1f1f1f" stroke-width="0.1">8</text>
<text x="288.23" y="425.29" font-size="6.41" text-anchor="end" fill="#1f1f1f" stroke="#1f1f1f" stroke-width="0.1">8</text>
<line x1="384.92" y1="496.70" x2="384.92" y2="498.83" stroke="#6e6e6e" stroke-width="1.0"/>
<line x1="290.37" y1="404.28" x2="292.50" y2="404.28" stroke="#6e6e6e" stroke-width="1.0"/>
<text x="384.92" y="505.86" font-size="6.41" text-anchor="middle" fill="#1f1f1f" stroke="#1f1f1f" stroke-width="0.1">10</text>
<text x="288.23" y="406.81" font-size="6.41" text-anchor="end" fill="#1f1f1f" stroke="#1f1f1f" stroke-width="0.1">10</text>
<line x1="403.40" y1="496.70" x2="403.40" y2="498.83" stroke="#6e6e6e" stroke-width="1.0"/>
<line x1="290.37" y1="385.80" x2="292.50" y2="385.80" stroke="#6e6e6e" stroke-width="1.0"/>
<text x="403.40" y="505.86" font-size="6.41" text-anchor="middle" fill="#1f1f1f" stroke="#1f1f1f" stroke-width="0.1">12</text>
<text x="288.23" y="388.33" font-size="6.41" text-anchor="end" fill="#1f1f1f" stroke="#1f1f1f" stroke-width="0.1">12</text>
<text x="347.95" y="382.14" font-size="8.49" text-anchor="middle" textLength="52.78" lengthAdjust="spacingAndGlyphs" fill="#1f1f1f" stroke="#1f1f1f" stroke-width="0.2">Teacher Model</text>
<text x="347.95" y="514.59" font-size="7.08" text-anchor="middle" textLength="61.18" lengthAdjust="spacingAndGlyphs" fill="#1f1f1f" stroke="#1f1f1f" stroke-width="0.12">Predicted QoL Value</text>
<text x="276.46" y="441.25" font-size="7.08" text-anchor="middle" textLength="51.67" lengthAdjust="spacingAndGlyphs" transform="rotate(-90 276.46 441.25)" fill="#1f1f1f" stroke="#1f1f1f" stroke-width="0.12">Actual QoL Value</text>
<g fill="#1f77b4"><circle cx="486.00" cy="404.28" r="2.13"/><circle cx="505.43" cy="404.28" r="2.13"/><circle cx="507.55" cy="404.28" r="2.13"/><circle cx="509.67" cy="404.28" r="2.13"/><circle cx="516.11" cy="404.28" r="2.13"/><circle cx="523.02" cy="404.28" r="2.13"/><circle cx="481.03" cy="413.52" r="2.13"/><circle cx="482.78" cy="413.52" r="2.13"/><circle cx="497.88" cy="413.52" r="2.13"/><circle cx="505.43" cy="413.52" r="2.13"/><circle cx="508.66" cy="413.52" r="2.13"/><circle cx="511.88" cy="413.52" r="2.13"/><circle cx="477.99" cy="422.77" r="2.13"/><circle cx="480.66" cy="422.77" r="2.13"/><circle cx="488.58" cy="422.77" r="2.13"/><circle cx="491.22" cy="422.77" r="2.13"/><circle cx="493.87" cy="422.77" r="2.13"/><circle cx="496.51" cy="422.77" r="2.13"/><circle cx="499.16" cy="422.77" r="2.13"/><circle cx="501.80" cy="422.77" r="2.13"/><circle cx="504.45" cy="422.77" r="2.13"/><circle cx="507.09" cy="422.77" r="2.13"/><circle cx="480.20" cy="432.01" r="2.13"/><circle cx="482.88" cy="432.01" r="2.13"/><circle cx="485.56" cy="432.01" r="2.13"/><circle cx="488.24" cy="432.01" r="2.13"/><circle cx="490.92" cy="432.01" r="2.13"/><circle cx="493.60" cy="432.01" r="2.13"/><circle cx="496.29" cy="432.01" r="2.13"/><circle cx="498.97" cy="432.01" r="2.13"/><circle cx="501.65" cy="432.01" r="2.13"/><circle cx="504.33" cy="432.01" r="2.13"/><circle cx="471.55" cy="441.25" r="2.13"/><circle cx="473.48" cy="441.25" r="2.13"/><circle cx="481.31" cy="441.25" r="2.13"/><circle cx="486.46" cy="441.25" r="2.13"/><circle cx="489.39" cy="441.25" r="2.13"/><circle cx="492.32" cy="441.25" r="2.13"/><circle cx="495.25" cy="441.25" r="2.13"/><circle cx="498.18" cy="441.25" r="2.13"/><circle cx="501.10" cy="441.25" r="2.13"/><circle cx="454.79" cy="450.49" r="2.13"/><circle cx="460.59" cy="450.49" r="2.13"/><circle cx="463.45" cy="450.49" r="2.13"/><circle cx="466.31" cy="450.49" r="2.13"/><circle cx="469.18" cy="450.49" r="2.13"/><circle cx="472.04" cy="450.49" r="2.13"/><circle cx="474.90" cy="450.49" r="2.13"/><circle cx="477.77" cy="450.49" r="2.13"/><circle cx="480.63" cy="450.49" r="2.13"/><circle cx="483.49" cy="450.49" r="2.13"/><circle cx="486.35" cy="450.49" r="2.13"/><circle cx="489.22" cy="450.49" r="2.13"/><circle cx="492.08" cy="450.49" r="2.13"/><circle cx="463.35" cy="459.73" r="2.13"/><circle cx="465.97" cy="459.73" r="2.13"/><circle cx="468.59" cy="459.73" r="2.13"/><circle cx="471.20" cy="459.73" r="2.13"/><circle cx="473.82" cy="459.73" r="2.13"/><circle cx="476.44" cy="459.73" r="2.13"/><circle cx="479.06" cy="459.73" r="2.13"/><circle cx="481.67" cy="459.73" r="2.13"/><circle cx="444.66" cy="468.98" r="2.13"/><circle cx="451.56" cy="468.98" r="2.13"/><circle cx="454.79" cy="468.98" r="2.13"/><circle cx="458.01" cy="468.98" r="2.13"/><circle cx="464.45" cy="468.98" r="2.13"/><circle cx="467.05" cy="468.98" r="2.13"/><circle cx="469.65" cy="468.98" r="2.13"/><circle cx="472.25" cy="468.98" r="2.13"/><circle cx="474.84" cy="468.98" r="2.13"/><circle cx="477.44" cy="468.98" r="2.13"/><circle cx="437.57" cy="478.22" r="2.13"/><circle cx="440.21" cy="478.22" r="2.13"/><circle cx="442.85" cy="478.22" r="2.13"/><circle cx="445.49" cy="478.22" r="2.13"/><circle cx="459.76" cy="478.22" r="2.13"/><circle cx="461.23" cy="478.22" r="2.13"/><circle cx="468.14" cy="478.22" r="2.13"/><circle cx="477.81" cy="478.22" r="2.13"/><circle cx="434.34" cy="487.46" r="2.13"/><circle cx="437.11" cy="487.46" r="2.13"/><circle cx="439.87" cy="487.46" r="2.13"/><circle cx="442.63" cy="487.46" r="2.13"/><circle cx="445.39" cy="487.46" r="2.13"/><circle cx="448.16" cy="487.46" r="2.13"/><circle cx="450.92" cy="487.46" r="2.13"/><circle cx="453.68" cy="487.46" r="2.13"/></g>
<line x1="439.41" y1="487.46" x2="522.28" y2="404.28" stroke="#ff0000" stroke-width="1.20"/>
<rect x="430.50" y="385.50" width="110.00" height="111.00" fill="none" stroke="#6e6e6e" stroke-width="1.0"/>
<line x1="430.20" y1="496.70" x2="430.20" y2="498.83" stroke="#6e6e6e" stroke-width="1.0"/>
<line x1="428.06" y1="496.70" x2="430.20" y2="496.70" stroke="#6e6e6e" stroke-width="1.0"/>
<text x="430.20" y="505.86" font-size="6.41" text-anchor="middle" fill="#1f1f1f" stroke="#1f1f1f" stroke-width="0.1">0</text>
<text x="425.93" y="499.23" font-size="6.41" text-anchor="end" fill="#1f1f1f" stroke="#1f1f1f" stroke-width="0.1">0</text>
<line x1="448.62" y1="496.70" x2="448.62" y2="498.83" stroke="#6e6e6e" stroke-width="1.0"/>
<line x1="428.06" y1="478.22" x2="430.20" y2="478.22" stroke="#6e6e6e" stroke-width="1.0"/>
<text x="448.62" y="505.86" font-size="6.41" text-anchor="middle" fill="#1f1f1f" stroke="#1f1f1f" stroke-width="0.1">2</text>
<text x="425.93" y="480.74" font-size="6.41" text-anchor="end" fill="#1f1f1f" stroke="#1f1f1f" stroke-width="0.1">2</text>
<line x1="467.03" y1="496.70" x2="467.03" y2="498.83" stroke="#6e6e6e" stroke-width="1.0"/>
<line x1="428.06" y1="459.73" x2="430.20" y2="459.73" stroke="#6e6e6e" stroke-width="1.0"/>
<text x="467.03" y="505.86" font-size="6.41" text-anchor="middle" fill="#1f1f1f" stroke="#1f1f1f" stroke-width="0.1">4</text>
<text x="425.93" y="462.26" font-size="6.41" text-anchor="end" fill="#1f1f1f" stroke="#1f1f1f" stroke-width="0.1">4</text>
<line x1="485.45" y1="496.70" x2="485.45" y2="498.83" stroke="#6e6e6e" stroke-width="1.0"/>
<line x1="428.06" y1="441.25" x2="430.20" y2="441.25" stroke="#6e6e6e" stroke-width="1.0"/>
<text x="485.45" y="505.86" font-size="6.41" text-anchor="middle" fill="#1f1f1f" stroke="#1f1f1f" stroke-width="0.1">6</text>
<text x="425.93" y="443.78" font-size="6.41" text-anchor="end" fill="#1f1f1f" stroke="#1f1f1f" stroke-width="0.1">6</text>
<line x1="503.87" y1="496.70" x2="503.87" y2="498.83" stroke="#6e6e6e" stroke-width="1.0"/>
<line x1="428.06" y1="422.77" x2="430.20" y2="422.77" stroke="#6e6e6e" stroke-width="1.0"/>
<text x="503.87" y="505.86" font-size="6.41" text-anchor="middle" fill="#1f1f1f" stroke="#1f1f1f" stroke-width="0.1">8</text>
<text x="425.93" y="425.29" font-size="6.41" text-anchor="end" fill="#1f1f1f" stroke="#1f1f1f" stroke-width="0.1">8</text>
<line x1="522.28" y1="496.70" x2="522.28" y2="498.83" stroke="#6e6e6e" stroke-width="1.0"/>
<line x1="428.06" y1="404.28" x2="430.20" y2="404.28" stroke="#6e6e6e" stroke-width="1.0"/>
<text x="522.28" y="505.86" font-size="6.41" text-anchor="middle" fill="#1f1f1f" stroke="#1f1f1f" stroke-width="0.1">10</text>
<text x="425.93" y="406.81" font-size="6.41" text-anchor="end" fill="#1f1f1f" stroke="#1f1f1f" stroke-width="0.1">10</text>
<line x1="540.70" y1="496.70" x2="540.70" y2="498.83" stroke="#6e6e6e" stroke-width="1.0"/>
<line x1="428.06" y1="385.80" x2="430.20" y2="385.80" stroke="#6e6e6e" stroke-width="1.0"/>
<text x="540.70" y="505.86" font-size="6.41" text-anchor="middle" fill="#1f1f1f" stroke="#1f1f1f" stroke-width="0.1">12</text>
<text x="425.93" y="388.33" font-size="6.41" text-anchor="end" fill="#1f1f1f" stroke="#1f1f1f" stroke-width="0.1">12</text>
<text x="485.45" y="382.14" font-size="8.49" text-anchor="middle" textLength="53.88" lengthAdjust="spacingAndGlyphs" fill="#1f1f1f" stroke="#1f1f1f" stroke-width="0.2">Distilled Model</text>
<text x="485.45" y="514.59" font-size="7.08" text-anchor="middle" textLength="61.18" lengthAdjust="spacingAndGlyphs" fill="#1f1f1f" stroke="#1f1f1f" stroke-width="0.12">Predicted QoL Value</text>
<text x="414.16" y="441.25" font-size="7.08" text-anchor="middle" textLength="51.67" lengthAdjust="spacingAndGlyphs" transform="rotate(-90 414.16 441.25)" fill="#1f1f1f" stroke="#1f1f1f" stroke-width="0.12">Actual QoL Value</text>
<text x="406.20" y="365.80" font-size="8.49" text-anchor="middle" textLength="55.34" lengthAdjust="spacingAndGlyphs" fill="#1f1f1f" stroke="#1f1f1f" stroke-width="0.2">Zebra Crossing</text>
</svg></body></html>
